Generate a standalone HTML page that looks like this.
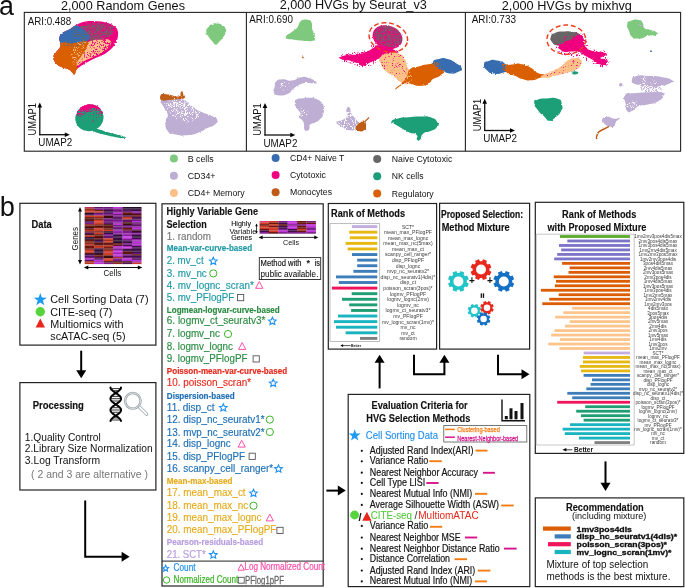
<!DOCTYPE html>
<html><head><meta charset="utf-8"><title>HVG selection benchmark figure</title>
<style>
html,body{margin:0;padding:0;background:#fff;}
svg{display:block;font-family:'Liberation Sans', Arial, sans-serif;fill:#111;}
</style></head><body>
<svg width="685" height="588" viewBox="0 0 685 588">
<defs>
<filter id="rough" x="-5%" y="-5%" width="110%" height="110%"><feTurbulence type="fractalNoise" baseFrequency="0.9" numOctaves="2" seed="3" result="n"/><feDisplacementMap in="SourceGraphic" in2="n" scale="2.2" xChannelSelector="R" yChannelSelector="G"/></filter>
<filter id="hb" x="0" y="0" width="100%" height="100%"><feGaussianBlur stdDeviation="0.3 0.7"/></filter>
<filter id="s80" x="0" y="0" width="100%" height="100%"><feTurbulence type="fractalNoise" baseFrequency="0.9" numOctaves="1" seed="3" result="n"/><feColorMatrix in="n" type="matrix" values="0 0 0 0 0 0 0 0 0 0 0 0 0 0 0 9 0 0 0 -3.60" result="m"/><feComposite in="SourceGraphic" in2="m" operator="in"/></filter>
<filter id="s70" x="0" y="0" width="100%" height="100%"><feTurbulence type="fractalNoise" baseFrequency="0.9" numOctaves="1" seed="7" result="n"/><feColorMatrix in="n" type="matrix" values="0 0 0 0 0 0 0 0 0 0 0 0 0 0 0 9 0 0 0 -3.96" result="m"/><feComposite in="SourceGraphic" in2="m" operator="in"/></filter>
<filter id="s60" x="0" y="0" width="100%" height="100%"><feTurbulence type="fractalNoise" baseFrequency="0.9" numOctaves="1" seed="11" result="n"/><feColorMatrix in="n" type="matrix" values="0 0 0 0 0 0 0 0 0 0 0 0 0 0 0 9 0 0 0 -4.23" result="m"/><feComposite in="SourceGraphic" in2="m" operator="in"/></filter>
<filter id="s50" x="0" y="0" width="100%" height="100%"><feTurbulence type="fractalNoise" baseFrequency="0.9" numOctaves="1" seed="23" result="n"/><feColorMatrix in="n" type="matrix" values="0 0 0 0 0 0 0 0 0 0 0 0 0 0 0 9 0 0 0 -4.50" result="m"/><feComposite in="SourceGraphic" in2="m" operator="in"/></filter>
<filter id="s35" x="0" y="0" width="100%" height="100%"><feTurbulence type="fractalNoise" baseFrequency="0.9" numOctaves="1" seed="37" result="n"/><feColorMatrix in="n" type="matrix" values="0 0 0 0 0 0 0 0 0 0 0 0 0 0 0 9 0 0 0 -4.86" result="m"/><feComposite in="SourceGraphic" in2="m" operator="in"/></filter>
<filter id="s20" x="0" y="0" width="100%" height="100%"><feTurbulence type="fractalNoise" baseFrequency="0.9" numOctaves="1" seed="41" result="n"/><feColorMatrix in="n" type="matrix" values="0 0 0 0 0 0 0 0 0 0 0 0 0 0 0 9 0 0 0 -5.22" result="m"/><feComposite in="SourceGraphic" in2="m" operator="in"/></filter>
<filter id="s35b" x="0" y="0" width="100%" height="100%"><feTurbulence type="fractalNoise" baseFrequency="0.9" numOctaves="1" seed="77" result="n"/><feColorMatrix in="n" type="matrix" values="0 0 0 0 0 0 0 0 0 0 0 0 0 0 0 9 0 0 0 -4.77" result="m"/><feComposite in="SourceGraphic" in2="m" operator="in"/></filter>
<filter id="s10" x="0" y="0" width="100%" height="100%"><feTurbulence type="fractalNoise" baseFrequency="0.9" numOctaves="1" seed="53" result="n"/><feColorMatrix in="n" type="matrix" values="0 0 0 0 0 0 0 0 0 0 0 0 0 0 0 9 0 0 0 -5.58" result="m"/><feComposite in="SourceGraphic" in2="m" operator="in"/></filter>
<clipPath id="c1"><path d="M74.3,74.6 C73.1,74.6 71.8,71.1 69.2,69.7 C66.7,68.3 61.5,67.6 59.0,66.0 C56.5,64.4 54.8,62.0 53.9,60.3 C53.0,58.6 53.0,57.2 53.4,55.9 C53.8,54.5 55.0,53.6 56.0,52.2 C57.0,50.9 59.0,49.2 59.7,47.8 C60.4,46.3 60.5,45.1 60.4,43.5 C60.3,41.9 58.8,40.1 59.0,38.4 C59.2,36.7 60.2,34.7 61.9,33.2 C63.6,31.7 67.1,30.8 69.2,29.6 C71.3,28.4 72.1,27.2 74.3,26.0 C76.5,24.8 79.5,23.1 82.3,22.3 C85.1,21.5 87.8,21.2 91.0,21.1 C94.2,21.0 98.1,21.2 101.3,21.6 C104.5,22.1 107.6,22.8 110.0,23.8 C112.4,24.8 114.6,25.9 115.9,27.4 C117.2,28.8 117.8,30.6 118.1,32.5 C118.3,34.4 118.0,36.9 117.4,39.0 C116.8,41.1 115.7,43.1 114.5,44.9 C113.3,46.7 112.0,48.3 110.0,50.0 C108.0,51.7 105.2,53.8 102.8,55.1 C100.4,56.5 97.9,57.0 95.5,58.1 C93.1,59.2 90.6,60.4 88.2,61.7 C85.8,63.0 82.9,64.8 80.9,66.1 C79.0,67.4 77.6,68.3 76.5,69.7 C75.4,71.1 75.5,74.6 74.3,74.6 Z"/></clipPath>
<clipPath id="cnk"><ellipse cx="89.4" cy="117.8" rx="14.4" ry="13.4" transform="rotate(-20 89.4 117.8)"/></clipPath>
</defs>
<rect width="685" height="588" fill="#fff"/>
<text x="-0.9" y="14.5" font-size="26.8">a</text>
<text x="61.0" y="9.6" font-size="12.6" textLength="124.0" lengthAdjust="spacingAndGlyphs">2,000 Random Genes</text>
<text x="279.7" y="9.4" font-size="12.6" textLength="147.1" lengthAdjust="spacingAndGlyphs">2,000 HVGs by Seurat_v3</text>
<text x="501.8" y="9.6" font-size="12.6" textLength="130.1" lengthAdjust="spacingAndGlyphs">2,000 HVGs by mixhvg</text>
<rect x="24.3" y="12.4" width="656.3" height="138.8" fill="none" stroke="#222" stroke-width="1.1" />
<line x1="246.4" y1="12.4" x2="246.4" y2="151.2" stroke="#222" stroke-width="1.1" />
<line x1="465.4" y1="12.4" x2="465.4" y2="151.2" stroke="#222" stroke-width="1.1" />
<text x="27.7" y="25.0" font-size="10.4" textLength="43.5" lengthAdjust="spacingAndGlyphs">ARI:0.488</text>
<text x="249.3" y="22.9" font-size="10.4" textLength="43.7" lengthAdjust="spacingAndGlyphs">ARI:0.690</text>
<text x="471.7" y="22.9" font-size="10.4" textLength="44.3" lengthAdjust="spacingAndGlyphs">ARI:0.733</text>
<line x1="39.8" y1="135.3" x2="39.8" y2="106.6" stroke="#111" stroke-width="1.3" />
<line x1="39.2" y1="134.7" x2="65.8" y2="134.7" stroke="#111" stroke-width="1.3" />
<polygon points="39.8,102.6 42.1,107.6 37.5,107.6" fill="#000" stroke="none" stroke-width="1" />
<polygon points="69.8,134.7 64.8,137.0 64.8,132.4" fill="#000" stroke="none" stroke-width="1" />
<text transform="translate(35.7 135.4) rotate(-90)" font-size="10.2" textLength="32.3" lengthAdjust="spacingAndGlyphs">UMAP1</text>
<text x="38.3" y="146.3" font-size="10.3" textLength="33.9" lengthAdjust="spacingAndGlyphs">UMAP2</text>
<line x1="265.0" y1="135.6" x2="265.0" y2="106.9" stroke="#111" stroke-width="1.3" />
<line x1="264.4" y1="135.0" x2="291.3" y2="135.0" stroke="#111" stroke-width="1.3" />
<polygon points="265.0,102.9 267.3,107.9 262.7,107.9" fill="#000" stroke="none" stroke-width="1" />
<polygon points="295.3,135.0 290.3,137.3 290.3,132.7" fill="#000" stroke="none" stroke-width="1" />
<text transform="translate(261.2 135.7) rotate(-90)" font-size="10.2" textLength="32.3" lengthAdjust="spacingAndGlyphs">UMAP1</text>
<text x="263.5" y="146.6" font-size="10.3" textLength="33.9" lengthAdjust="spacingAndGlyphs">UMAP2</text>
<line x1="484.7" y1="131.1" x2="484.7" y2="102.8" stroke="#111" stroke-width="1.3" />
<line x1="484.1" y1="130.5" x2="511.0" y2="130.5" stroke="#111" stroke-width="1.3" />
<polygon points="484.7,98.8 487.0,103.8 482.4,103.8" fill="#000" stroke="none" stroke-width="1" />
<polygon points="515.0,130.5 510.0,132.8 510.0,128.2" fill="#000" stroke="none" stroke-width="1" />
<text transform="translate(481.0 131.2) rotate(-90)" font-size="10.2" textLength="32.3" lengthAdjust="spacingAndGlyphs">UMAP1</text>
<text x="483.2" y="142.1" font-size="10.3" textLength="33.9" lengthAdjust="spacingAndGlyphs">UMAP2</text>
<g filter="url(#rough)">
<g clip-path="url(#c1)">
<rect x="45.0" y="15.0" width="80.0" height="65.0" fill="#f0027f" stroke="none" stroke-width="1.2" />
<ellipse cx="94.0" cy="31.8" rx="20.0" ry="8.8" fill="#666666" stroke="none" stroke-width="1" transform="rotate(-6 94.0 31.8)" filter="url(#s70)"/>
<path d="M85.8,45.2 C89.2,42.1 86.4,42.6 91.6,40.8 C96.8,39.0 95.2,39.9 101.3,39.8 C107.4,39.7 107.6,38.1 110.0,40.5 C112.4,42.9 111.3,42.9 108.5,47.1 C105.7,51.3 106.8,49.6 101.5,53.0 C96.2,56.4 98.5,54.4 92.6,57.2 C86.7,60.0 89.2,58.3 83.8,61.3 C78.4,64.3 80.3,65.5 76.5,66.1 C72.7,66.7 72.5,66.6 72.3,63.2 C72.1,59.8 73.0,60.3 76.0,55.9 C79.0,51.5 78.0,53.6 81.3,50.0 C84.6,46.4 82.4,48.3 85.8,45.2 Z" fill="#fdc086" stroke="none" stroke-width="1" />
<path d="M85.8,45.2 C89.2,42.1 86.4,42.6 91.6,40.8 C96.8,39.0 95.2,39.9 101.3,39.8 C107.4,39.7 107.6,38.1 110.0,40.5 C112.4,42.9 111.3,42.9 108.5,47.1 C105.7,51.3 106.8,49.6 101.5,53.0 C96.2,56.4 98.5,54.4 92.6,57.2 C86.7,60.0 89.2,58.3 83.8,61.3 C78.4,64.3 80.3,65.5 76.5,66.1 C72.7,66.7 72.5,66.6 72.3,63.2 C72.1,59.8 73.0,60.3 76.0,55.9 C79.0,51.5 78.0,53.6 81.3,50.0 C84.6,46.4 82.4,48.3 85.8,45.2 Z" fill="#f0027f" stroke="none" stroke-width="1" filter="url(#s20)"/>
<path d="M96.0,40.0 C104.3,33.3 106.5,37.6 111.0,40.0 C115.5,42.4 112.5,42.6 109.5,47.1 C106.5,51.6 107.6,49.9 102.0,53.4 C96.4,56.9 97.9,55.4 92.6,57.6 C87.3,59.8 84.9,65.9 86.0,60.0 C87.1,54.1 87.7,46.7 96.0,40.0 Z" fill="#f0027f" stroke="none" stroke-width="1" filter="url(#s35)"/>
<path d="M58.0,38.4 C58.7,34.8 57.5,35.5 60.9,32.2 C64.3,28.9 63.4,30.9 68.2,28.6 C73.0,26.3 71.0,25.4 75.3,25.2 C79.6,25.0 77.3,25.6 81.0,28.0 C84.7,30.4 83.7,29.4 86.5,32.5 C89.3,35.6 89.9,34.1 89.5,37.2 C89.1,40.3 89.5,39.8 85.2,41.8 C80.9,43.8 81.8,42.5 76.5,43.2 C71.2,43.9 74.1,43.5 69.2,44.0 C64.3,44.5 65.4,45.0 61.9,44.7 C58.4,44.4 60.0,45.1 58.7,43.0 C57.4,40.9 57.3,42.0 58.0,38.4 Z" fill="#386cb0" stroke="none" stroke-width="1" />
<path d="M52.4,55.9 C53.1,53.2 52.9,54.9 55.0,52.2 C57.1,49.5 57.2,50.8 58.7,47.8 C60.2,44.8 55.9,44.7 59.4,43.2 C62.9,41.7 63.0,43.5 69.2,43.2 C75.4,42.9 71.9,42.8 78.0,42.4 C84.1,42.0 84.9,39.9 87.6,42.0 C90.3,44.1 88.1,44.0 86.0,48.6 C83.9,53.2 84.4,51.0 81.4,55.9 C78.4,60.8 78.3,58.6 77.0,63.2 C75.7,67.8 77.8,65.4 77.5,69.7 C77.2,74.0 79.1,75.7 76.0,76.0 C72.9,76.3 74.2,73.7 68.2,70.7 C62.2,67.7 63.1,70.5 58.0,67.0 C52.9,63.5 54.8,64.0 52.9,60.3 C51.0,56.6 51.7,58.6 52.4,55.9 Z" fill="#d95f02" stroke="none" stroke-width="1" />
<path d="M78.0,42.0 C82.3,39.0 84.0,38.7 86.0,41.0 C88.0,43.3 86.3,43.7 84.0,49.0 C81.7,54.3 81.7,52.0 79.0,57.0 C76.3,62.0 78.7,63.0 76.0,64.0 C73.3,65.0 72.0,64.7 71.0,60.0 C70.0,55.3 70.7,56.0 73.0,50.0 C75.3,44.0 73.7,45.0 78.0,42.0 Z" fill="#fdc086" stroke="none" stroke-width="1" filter="url(#s35)"/>
<path d="M62.0,42.0 C70.0,39.0 80.0,37.3 88.0,38.0 C96.0,38.7 94.0,41.0 86.0,44.0 C78.0,47.0 72.0,47.7 64.0,47.0 C56.0,46.3 54.0,45.0 62.0,42.0 Z" fill="#666666" stroke="none" stroke-width="1" filter="url(#s20)"/>
<path d="M70.0,28.0 C70.7,24.7 76.0,27.7 82.0,31.0 C88.0,34.3 88.7,34.7 88.0,38.0 C87.3,41.3 86.0,44.3 80.0,41.0 C74.0,37.7 69.3,31.3 70.0,28.0 Z" fill="#666666" stroke="none" stroke-width="1" filter="url(#s35)"/>
</g>
<path d="M208.5,27.0 C210.4,24.6 209.2,25.3 212.0,24.2 C214.8,23.1 213.7,23.3 217.0,23.6 C220.3,23.9 219.2,23.4 222.0,25.0 C224.8,26.6 224.4,25.8 225.5,28.5 C226.6,31.2 226.3,29.8 225.3,33.0 C224.3,36.2 224.6,35.0 222.5,38.0 C220.4,41.0 221.3,39.8 219.0,42.0 C216.7,44.2 217.9,44.7 215.7,44.5 C213.5,44.3 214.9,44.2 212.5,41.5 C210.1,38.8 210.6,39.8 208.5,36.5 C206.4,33.2 206.3,34.7 206.3,31.5 C206.3,28.3 206.6,29.4 208.5,27.0 Z" fill="#7fc97f" stroke="none" stroke-width="1" />
<ellipse cx="89.4" cy="117.8" rx="14.2" ry="13.2" fill="#1b9e77" stroke="none" stroke-width="1" transform="rotate(-20 89.4 117.8)" />
<path d="M93.0,129.2 C94.3,128.6 95.2,128.7 99.0,129.4 C102.8,130.1 102.6,130.7 107.3,132.0 C112.0,133.3 111.8,133.1 116.5,134.4 C121.2,135.7 122.9,135.7 124.8,136.8 C126.7,137.9 126.8,138.5 123.5,138.4 C120.2,138.3 118.2,137.8 112.5,136.6 C106.8,135.4 106.9,135.3 102.0,134.0 C97.1,132.7 96.6,132.9 94.2,131.6 C91.8,130.3 91.7,129.8 93.0,129.2 Z" fill="#1b9e77" stroke="none" stroke-width="1" />
<g clip-path="url(#cnk)">
<path d="M80.0,108.0 C80.3,105.8 80.7,105.8 86.0,104.0 C91.3,102.2 90.3,101.8 96.0,102.5 C101.7,103.2 101.3,103.7 103.0,106.0 C104.7,108.3 104.3,108.8 101.0,109.5 C97.7,110.2 98.3,107.7 93.0,108.0 C87.7,108.3 89.3,110.5 85.0,110.5 C80.7,110.5 79.7,110.2 80.0,108.0 Z" fill="#f0027f" stroke="none" stroke-width="1" />
<path d="M77.0,112.0 C77.7,108.2 75.7,108.3 82.0,105.0 C88.3,101.7 88.3,101.0 96.0,102.0 C103.7,103.0 102.7,104.2 105.0,108.0 C107.3,111.8 106.3,112.3 103.0,113.5 C99.7,114.7 100.7,111.5 95.0,111.5 C89.3,111.5 91.0,111.8 86.0,113.5 C81.0,115.2 83.0,117.0 80.0,116.5 C77.0,116.0 76.3,115.8 77.0,112.0 Z" fill="#f0027f" stroke="none" stroke-width="1" filter="url(#s60)"/>
<path d="M80.0,114.0 C82.7,110.0 88.7,110.0 96.0,110.0 C103.3,110.0 101.0,110.0 102.0,114.0 C103.0,118.0 103.7,119.3 99.0,122.0 C94.3,124.7 94.3,124.7 88.0,122.0 C81.7,119.3 77.3,118.0 80.0,114.0 Z" fill="#f0027f" stroke="none" stroke-width="1" filter="url(#s10)"/>
</g>
<path d="M161.5,100.0 C164.0,96.9 165.0,99.3 172.0,99.2 C179.0,99.1 176.0,97.4 182.5,99.6 C189.0,101.8 185.8,102.0 191.4,105.8 C197.0,109.6 192.3,107.5 199.3,111.0 C206.3,114.5 206.4,113.2 212.4,116.3 C218.4,119.4 216.4,117.5 217.3,120.2 C218.2,122.9 218.4,121.7 215.0,124.4 C211.6,127.1 212.3,125.7 207.1,128.3 C201.9,130.9 205.4,130.0 199.3,132.2 C193.2,134.4 196.6,134.3 188.7,135.0 C180.8,135.7 182.6,135.8 175.6,134.4 C168.6,133.0 171.0,135.2 167.7,130.9 C164.4,126.6 165.8,126.8 165.8,121.5 C165.8,116.2 168.1,119.4 167.7,115.0 C167.3,110.6 166.7,113.4 164.6,108.4 C162.5,103.4 159.0,103.1 161.5,100.0 Z" fill="#beaed4" stroke="none" stroke-width="1" />
<path d="M166.0,100.5 C170.7,96.3 175.0,98.7 184.0,100.5 C193.0,102.3 187.7,101.8 193.0,106.0 C198.3,110.2 200.0,108.0 200.0,113.0 C200.0,118.0 199.7,118.7 193.0,121.0 C186.3,123.3 187.7,122.7 180.0,120.0 C172.3,117.3 174.7,119.5 170.0,113.0 C165.3,106.5 161.3,104.7 166.0,100.5 Z" fill="#fff" stroke="none" stroke-width="1" filter="url(#s35)"/>
<path d="M170.0,101.5 C173.7,99.5 177.0,99.8 184.0,102.0 C191.0,104.2 189.0,103.7 191.0,108.0 C193.0,112.3 193.7,113.0 190.0,115.0 C186.3,117.0 185.7,116.3 180.0,114.0 C174.3,111.7 176.3,112.2 173.0,108.0 C169.7,103.8 166.3,103.5 170.0,101.5 Z" fill="#fff" stroke="none" stroke-width="1" filter="url(#s35b)"/>
<path d="M161.0,94.8 C162.1,93.4 163.4,94.1 166.0,94.2 C168.6,94.3 169.7,94.7 172.0,95.2 C174.3,95.7 174.2,96.4 176.0,96.5 C177.8,96.6 178.7,96.8 179.8,95.8 C180.9,94.8 180.2,93.2 180.8,92.2 C181.4,91.2 181.9,91.1 182.5,91.6 C183.1,92.1 182.7,93.2 183.2,94.2 C183.7,95.2 184.3,94.9 184.6,95.8 C184.9,96.7 185.8,97.4 184.3,98.2 C182.8,99.0 181.3,98.8 178.0,99.2 C174.7,99.6 173.8,99.5 170.0,99.8 C166.2,100.1 163.6,101.6 161.5,100.4 C159.4,99.2 159.9,96.2 161.0,94.8 Z" fill="#bf5b17" stroke="none" stroke-width="1" />
<path d="M172.0,96.5 C176.2,95.0 180.3,94.5 184.5,95.5 C188.7,96.5 188.7,98.0 184.5,99.5 C180.3,101.0 176.2,101.0 172.0,100.0 C167.8,99.0 167.8,98.0 172.0,96.5 Z" fill="#fff" stroke="none" stroke-width="1" filter="url(#s20)"/>
<path d="M300.0,22.0 C301.3,20.7 301.1,20.3 303.5,19.8 C305.9,19.3 306.8,19.2 309.0,20.1 C311.2,21.0 310.8,20.4 311.7,23.0 C312.6,25.6 311.6,26.4 312.5,30.0 C313.4,33.6 314.7,33.7 315.0,36.5 C315.3,39.3 315.9,39.4 313.5,40.6 C311.1,41.8 310.7,41.1 306.0,40.9 C301.3,40.7 301.1,40.5 296.0,39.9 C290.9,39.3 289.6,39.8 287.0,38.8 C284.4,37.8 285.1,37.7 286.2,36.0 C287.3,34.3 288.3,34.5 291.0,32.5 C293.7,30.5 294.4,30.6 296.5,28.5 C298.6,26.4 297.9,26.2 298.8,24.5 C299.7,22.8 298.7,23.3 300.0,22.0 Z" fill="#7fc97f" stroke="none" stroke-width="1" />
<path d="M275.8,82.0 C278.3,79.4 276.8,79.8 282.2,79.3 C287.6,78.8 285.9,81.2 291.9,80.6 C297.9,80.0 294.7,78.4 300.3,77.5 C305.9,76.6 303.4,76.3 308.8,78.0 C314.2,79.7 315.8,80.9 316.6,82.6 C317.4,84.3 315.4,83.0 311.2,83.2 C307.0,83.4 308.5,82.3 303.9,83.2 C299.3,84.1 301.3,83.9 297.5,86.0 C293.7,88.1 295.8,86.8 292.5,89.5 C289.2,92.2 292.3,92.1 287.5,94.0 C282.7,95.9 282.6,95.7 278.0,95.2 C273.4,94.7 274.9,95.2 273.8,92.5 C272.7,89.8 273.9,90.5 274.6,87.0 C275.3,83.5 273.3,84.6 275.8,82.0 Z" fill="#beaed4" stroke="none" stroke-width="1" />
<path d="M280.0,84.0 C283.0,81.7 285.3,82.3 290.0,83.0 C294.7,83.7 294.7,83.7 294.0,86.0 C293.3,88.3 292.3,88.7 288.0,90.0 C283.7,91.3 283.7,92.0 281.0,90.0 C278.3,88.0 277.0,86.3 280.0,84.0 Z" fill="#fff" stroke="none" stroke-width="1" filter="url(#s20)"/>
<path d="M296.2,99.7 C298.4,98.2 298.2,98.9 302.1,98.3 C306.0,97.7 304.9,97.5 309.1,97.7 C313.3,97.9 312.4,97.4 316.1,98.9 C319.9,100.4 319.3,99.9 321.6,102.6 C323.9,105.3 323.4,104.6 323.9,107.9 C324.4,111.2 324.4,110.3 323.3,113.7 C322.2,117.1 322.7,116.4 320.2,119.1 C317.7,121.8 317.9,121.1 314.9,122.7 C311.9,124.3 312.0,122.5 310.3,124.4 C308.6,126.3 310.4,127.0 309.3,128.9 C308.2,130.8 308.2,130.8 306.7,130.8 C305.2,130.8 305.0,130.9 304.2,128.9 C303.4,126.9 304.6,126.8 304.0,124.2 C303.4,121.6 303.6,122.2 302.1,120.1 C300.6,118.0 299.5,119.1 299.0,117.2 C298.5,115.3 300.7,115.8 300.5,113.7 C300.3,111.6 299.9,112.3 298.4,110.2 C296.9,108.1 296.6,108.8 295.5,106.7 C294.4,104.6 294.7,105.3 294.9,103.2 C295.1,101.1 294.0,101.2 296.2,99.7 Z" fill="#beaed4" stroke="none" stroke-width="1" />
<path d="M299.0,108.0 C301.0,106.7 302.0,108.0 305.0,110.0 C308.0,112.0 308.7,111.7 308.0,114.0 C307.3,116.3 306.0,117.0 303.0,117.0 C300.0,117.0 300.3,117.0 299.0,114.0 C297.7,111.0 297.0,109.3 299.0,108.0 Z" fill="#fff" stroke="none" stroke-width="1" filter="url(#s35)"/>
<path d="M336.5,122.3 C336.4,119.8 339.1,121.9 342.6,119.9 C346.1,117.9 345.7,119.8 347.0,116.3 C348.3,112.8 345.6,112.4 346.5,109.5 C347.4,106.6 347.9,106.2 349.6,107.7 C351.3,109.2 349.5,110.2 351.5,113.9 C353.5,117.6 353.5,115.5 355.7,118.7 C357.9,121.9 358.1,120.4 358.1,123.6 C358.1,126.8 358.5,126.2 355.7,128.4 C352.9,130.6 353.8,130.6 349.6,130.3 C345.4,130.0 347.4,130.2 343.0,127.5 C338.6,124.8 336.6,124.8 336.5,122.3 Z" fill="#beaed4" stroke="none" stroke-width="1" />
<path d="M336.5,122.3 C336.4,119.8 339.1,121.9 342.6,119.9 C346.1,117.9 345.7,119.8 347.0,116.3 C348.3,112.8 345.6,112.4 346.5,109.5 C347.4,106.6 347.9,106.2 349.6,107.7 C351.3,109.2 349.5,110.2 351.5,113.9 C353.5,117.6 353.5,115.5 355.7,118.7 C357.9,121.9 358.1,120.4 358.1,123.6 C358.1,126.8 358.5,126.2 355.7,128.4 C352.9,130.6 353.8,130.6 349.6,130.3 C345.4,130.0 347.4,130.2 343.0,127.5 C338.6,124.8 336.6,124.8 336.5,122.3 Z" fill="#fff" stroke="none" stroke-width="1" filter="url(#s35)"/>
<path d="M355.7,128.4 C355.7,126.1 356.4,126.0 358.0,124.0 C359.6,122.0 358.5,123.4 360.5,122.4 C362.5,121.4 362.3,119.8 364.1,121.0 C365.9,122.2 366.0,122.9 366.0,126.0 C366.0,129.1 366.7,128.6 364.1,130.3 C361.5,132.0 360.9,131.6 358.1,131.0 C355.3,130.4 355.7,130.7 355.7,128.4 Z" fill="#bf5b17" stroke="none" stroke-width="1" />
<line x1="364.5" y1="122.0" x2="369.0" y2="117.5" stroke="#bf5b17" stroke-width="1.1" />
<circle cx="302.8" cy="57.4" r="0.9" fill="#bf5b17" stroke="none" stroke-width="1" />
<ellipse cx="387.5" cy="37.2" rx="15.2" ry="11.6" fill="#f0027f" stroke="none" stroke-width="1" transform="rotate(18 387.5 37.2)" />
<ellipse cx="388.3" cy="36.3" rx="14.6" ry="10.4" fill="#666666" stroke="none" stroke-width="1" transform="rotate(18 388.3 36.3)" filter="url(#s70)"/>
<path d="M340.0,57.6 C341.1,55.9 341.4,56.0 347.4,54.9 C353.4,53.8 351.3,55.6 358.1,54.3 C364.9,53.0 362.1,53.3 367.7,51.1 C373.3,48.9 370.6,48.0 375.0,47.7 C379.4,47.4 379.3,47.2 381.0,50.3 C382.7,53.4 381.2,54.0 380.0,57.0 C378.8,60.0 380.7,57.4 377.4,59.3 C374.1,61.2 375.0,60.4 370.2,62.6 C365.4,64.8 366.9,65.5 362.9,65.8 C358.9,66.1 362.1,65.0 358.1,63.4 C354.1,61.8 355.5,62.1 350.8,60.9 C346.1,59.7 347.6,61.0 344.0,59.9 C340.4,58.8 338.9,59.3 340.0,57.6 Z" fill="#f0027f" stroke="none" stroke-width="1" />
<path d="M374.0,48.0 C376.0,45.3 375.3,45.3 382.0,46.0 C388.7,46.7 389.0,47.3 394.0,50.0 C399.0,52.7 398.3,51.8 397.0,54.0 C395.7,56.2 395.3,55.3 390.0,56.5 C384.7,57.7 385.7,58.3 381.0,57.5 C376.3,56.7 378.3,57.2 376.0,54.0 C373.7,50.8 372.0,50.7 374.0,48.0 Z" fill="#f0027f" stroke="none" stroke-width="1" />
<path d="M340.0,56.0 C343.3,53.2 343.3,54.7 352.0,52.5 C360.7,50.3 358.0,51.8 366.0,49.5 C374.0,47.2 367.3,46.0 376.0,45.5 C384.7,45.0 384.3,45.5 392.0,48.0 C399.7,50.5 397.7,49.3 399.0,53.0 C400.3,56.7 399.7,56.0 396.0,59.0 C392.3,62.0 393.3,61.0 388.0,62.0 C382.7,63.0 385.3,61.0 380.0,62.0 C374.7,63.0 378.0,63.2 372.0,65.0 C366.0,66.8 368.7,68.0 362.0,67.5 C355.3,67.0 358.7,65.7 352.0,63.5 C345.3,61.3 346.0,63.5 342.0,61.0 C338.0,58.5 336.7,58.8 340.0,56.0 Z" fill="#f0027f" stroke="none" stroke-width="1" filter="url(#s35)"/>
<path d="M380.5,57.5 C383.0,53.7 382.3,54.2 388.5,53.0 C394.7,51.8 393.6,51.6 399.2,53.8 C404.8,56.0 402.5,55.3 405.2,59.7 C407.9,64.1 405.3,62.6 407.4,67.0 C409.5,71.4 409.8,68.6 411.5,73.0 C413.2,77.4 413.8,76.4 412.4,80.1 C411.0,83.8 411.4,83.4 407.4,84.0 C403.4,84.6 404.9,84.5 400.4,82.0 C395.9,79.5 398.7,80.0 394.0,76.5 C389.3,73.0 390.6,75.6 386.3,71.6 C382.0,67.6 382.9,69.1 381.0,64.4 C379.1,59.7 378.0,61.3 380.5,57.5 Z" fill="#fdc086" stroke="none" stroke-width="1" />
<path d="M380.5,57.5 C383.0,53.7 382.3,54.2 388.5,53.0 C394.7,51.8 393.6,51.6 399.2,53.8 C404.8,56.0 402.5,55.3 405.2,59.7 C407.9,64.1 405.3,62.6 407.4,67.0 C409.5,71.4 409.8,68.6 411.5,73.0 C413.2,77.4 413.8,76.4 412.4,80.1 C411.0,83.8 411.4,83.4 407.4,84.0 C403.4,84.6 404.9,84.5 400.4,82.0 C395.9,79.5 398.7,80.0 394.0,76.5 C389.3,73.0 390.6,75.6 386.3,71.6 C382.0,67.6 382.9,69.1 381.0,64.4 C379.1,59.7 378.0,61.3 380.5,57.5 Z" fill="#f0027f" stroke="none" stroke-width="1" filter="url(#s10)"/>
<path d="M410.0,69.2 C413.8,66.1 412.4,68.3 418.5,66.6 C424.6,64.9 422.6,64.8 428.2,64.2 C433.8,63.6 430.5,62.8 435.4,64.9 C440.3,67.0 441.3,66.9 442.9,70.4 C444.5,73.9 443.5,72.5 440.2,75.4 C436.9,78.3 436.6,76.7 433.0,79.1 C429.4,81.5 433.4,80.5 429.4,82.7 C425.4,84.9 427.0,85.4 420.9,85.8 C414.8,86.2 416.1,84.9 411.2,83.9 C406.3,82.9 409.6,82.2 406.2,82.7 C402.8,83.2 404.3,83.4 401.0,85.5 C397.7,87.6 397.8,88.2 396.3,88.9 C394.8,89.6 394.3,89.9 396.5,87.6 C398.7,85.3 399.5,85.9 403.0,82.0 C406.5,78.1 404.7,80.3 407.0,76.0 C409.3,71.7 406.2,72.3 410.0,69.2 Z" fill="#d95f02" stroke="none" stroke-width="1" />
<path d="M404.0,72.0 C405.3,68.7 406.3,68.0 409.0,70.0 C411.7,72.0 412.0,73.7 412.0,78.0 C412.0,82.3 411.3,82.3 409.0,83.0 C406.7,83.7 406.7,83.7 405.0,80.0 C403.3,76.3 402.7,75.3 404.0,72.0 Z" fill="#fdc086" stroke="none" stroke-width="1" filter="url(#s35)"/>
<path d="M433.0,62.0 C433.8,59.4 434.2,59.9 439.0,58.9 C443.8,57.9 441.8,57.5 447.5,58.9 C453.2,60.3 451.3,60.2 456.0,63.2 C460.7,66.2 460.9,65.1 461.7,68.0 C462.5,70.9 462.3,70.0 458.4,71.8 C454.5,73.6 455.1,73.9 449.9,73.5 C444.7,73.1 447.1,72.8 442.7,70.6 C438.3,68.4 439.8,69.7 436.6,66.8 C433.4,63.9 432.2,64.6 433.0,62.0 Z" fill="#386cb0" stroke="none" stroke-width="1" />
<path d="M430.0,64.0 C431.3,62.0 433.3,61.0 437.0,62.0 C440.7,63.0 438.3,63.7 441.0,67.0 C443.7,70.3 446.0,70.3 445.0,72.0 C444.0,73.7 442.0,73.3 438.0,72.0 C434.0,70.7 435.7,70.7 433.0,68.0 C430.3,65.3 428.7,66.0 430.0,64.0 Z" fill="#d95f02" stroke="none" stroke-width="1" filter="url(#s35)"/>
<path d="M391.7,121.2 C392.9,119.4 392.3,119.8 398.0,118.5 C403.7,117.2 401.2,117.9 408.8,117.3 C416.4,116.7 413.6,116.6 420.9,116.6 C428.2,116.6 425.1,115.4 430.6,117.3 C436.1,119.2 435.4,119.1 437.5,122.4 C439.6,125.7 439.1,124.3 436.8,127.2 C434.5,130.1 435.1,128.9 430.6,131.0 C426.1,133.1 426.8,130.6 423.3,133.4 C419.8,136.2 422.3,137.5 420.2,139.5 C418.1,141.5 418.3,141.1 417.0,139.5 C415.7,137.9 419.1,137.1 416.4,134.7 C413.7,132.3 414.1,134.6 408.8,132.2 C403.5,129.8 405.2,130.2 400.4,127.4 C395.6,124.6 397.2,125.9 394.3,123.8 C391.4,121.7 390.5,123.0 391.7,121.2 Z" fill="#1b9e77" stroke="none" stroke-width="1" />
<path d="M484.0,64.4 C484.5,61.3 484.3,62.3 488.6,61.0 C492.9,59.7 491.4,59.4 497.0,60.5 C502.6,61.6 502.2,61.3 505.5,64.2 C508.8,67.1 508.1,66.3 506.9,69.2 C505.7,72.1 506.4,71.6 501.9,73.0 C497.4,74.4 498.3,74.4 493.4,73.5 C488.5,72.6 490.3,73.4 487.2,70.4 C484.1,67.4 483.5,67.5 484.0,64.4 Z" fill="#386cb0" stroke="none" stroke-width="1" />
<path d="M505.5,66.8 C507.5,63.7 508.4,65.1 514.0,64.2 C519.6,63.3 516.8,63.0 522.4,64.2 C528.0,65.4 526.1,65.0 530.9,67.8 C535.7,70.6 532.4,70.1 536.9,72.6 C541.4,75.1 543.6,73.4 544.4,75.2 C545.2,77.0 543.8,76.2 539.3,77.9 C534.8,79.6 536.5,79.9 530.9,80.3 C525.3,80.7 527.6,80.6 522.4,79.1 C517.2,77.6 520.0,77.8 515.2,75.9 C510.4,74.0 511.1,76.5 507.9,73.5 C504.7,70.5 503.5,69.9 505.5,66.8 Z" fill="#d95f02" stroke="none" stroke-width="1" />
<path d="M501.0,66.0 C502.3,63.2 503.3,62.5 506.0,63.5 C508.7,64.5 508.7,65.7 509.0,69.0 C509.3,72.3 509.3,72.5 507.0,73.5 C504.7,74.5 504.0,74.5 502.0,72.0 C500.0,69.5 499.7,68.8 501.0,66.0 Z" fill="#d95f02" stroke="none" stroke-width="1" filter="url(#s35)"/>
<path d="M541.5,75.8 C543.1,73.8 544.9,74.8 551.4,71.6 C557.9,68.4 555.6,69.9 561.1,66.2 C566.6,62.5 563.5,63.2 567.8,60.6 C572.1,58.0 569.8,58.7 574.0,58.3 C578.2,57.9 578.2,57.5 580.5,59.5 C582.8,61.5 582.2,60.9 580.8,64.2 C579.4,67.5 581.2,66.5 576.2,69.4 C571.2,72.3 572.6,70.9 565.9,72.9 C559.2,74.9 562.6,73.9 556.2,75.5 C549.8,77.1 551.5,77.6 546.6,77.7 C541.7,77.8 539.9,77.8 541.5,75.8 Z" fill="#fdc086" stroke="none" stroke-width="1" />
<path d="M541.5,75.8 C543.1,73.8 544.9,74.8 551.4,71.6 C557.9,68.4 555.6,69.9 561.1,66.2 C566.6,62.5 563.5,63.2 567.8,60.6 C572.1,58.0 569.8,58.7 574.0,58.3 C578.2,57.9 578.2,57.5 580.5,59.5 C582.8,61.5 582.2,60.9 580.8,64.2 C579.4,67.5 581.2,66.5 576.2,69.4 C571.2,72.3 572.6,70.9 565.9,72.9 C559.2,74.9 562.6,73.9 556.2,75.5 C549.8,77.1 551.5,77.6 546.6,77.7 C541.7,77.8 539.9,77.8 541.5,75.8 Z" fill="#f0027f" stroke="none" stroke-width="1" filter="url(#s10)"/>
<path d="M534.3,103.0 C534.1,99.5 533.3,101.2 537.4,99.7 C541.5,98.2 539.9,98.8 546.6,98.5 C553.3,98.2 552.4,96.8 557.5,98.7 C562.6,100.6 560.7,99.9 561.8,104.2 C562.9,108.5 563.1,107.0 560.8,111.5 C558.5,116.0 558.8,114.6 555.0,117.7 C551.2,120.8 553.1,121.2 549.5,120.8 C545.9,120.4 548.0,120.0 544.2,116.5 C540.4,113.0 541.3,114.8 538.0,110.3 C534.7,105.8 534.5,106.5 534.3,103.0 Z" fill="#1b9e77" stroke="none" stroke-width="1" />
<path d="M572.5,71.8 C573.7,71.1 574.1,71.0 576.0,71.4 C577.9,71.8 578.6,72.0 578.3,73.0 C578.0,74.0 577.0,74.2 575.0,74.4 C573.0,74.6 573.1,74.5 572.3,73.6 C571.5,72.7 571.3,72.5 572.5,71.8 Z" fill="#1b9e77" stroke="none" stroke-width="1" />
<path d="M551.0,36.5 C552.0,33.5 551.0,34.6 555.0,33.0 C559.0,31.4 557.0,31.9 563.0,31.6 C569.0,31.3 567.3,31.0 573.0,32.0 C578.7,33.0 577.0,32.2 580.0,34.5 C583.0,36.8 582.7,36.2 582.0,39.0 C581.3,41.8 582.7,41.0 578.0,43.0 C573.3,45.0 574.7,44.2 568.0,45.0 C561.3,45.8 563.3,46.5 558.0,45.5 C552.7,44.5 554.3,45.0 552.0,42.0 C549.7,39.0 550.0,39.5 551.0,36.5 Z" fill="#666666" stroke="none" stroke-width="1" />
<path d="M558.7,46.5 C559.8,44.2 559.6,45.3 563.7,43.0 C567.8,40.7 566.0,42.1 571.0,39.5 C576.0,36.9 574.5,35.5 578.7,35.2 C582.9,34.9 581.2,34.7 583.5,38.5 C585.8,42.3 582.1,42.2 585.5,46.5 C588.9,50.8 587.9,49.4 593.7,51.3 C599.5,53.2 599.2,50.9 603.0,52.2 C606.8,53.5 605.9,53.3 605.1,55.2 C604.3,57.1 600.3,56.5 600.5,58.0 C600.7,59.5 603.6,58.1 605.8,59.7 C608.0,61.3 607.6,60.9 607.0,62.7 C606.4,64.5 607.2,65.0 604.0,65.1 C600.8,65.2 602.1,65.2 597.4,62.9 C592.7,60.6 594.9,61.0 589.9,58.2 C584.9,55.4 586.2,56.7 582.5,54.5 C578.8,52.3 582.5,52.7 578.7,51.7 C574.9,50.7 575.8,51.4 571.2,51.5 C566.6,51.6 568.6,52.6 565.0,52.0 C561.4,51.4 562.6,51.6 560.5,49.8 C558.4,48.0 557.6,48.8 558.7,46.5 Z" fill="#f0027f" stroke="none" stroke-width="1" />
<path d="M556.0,47.0 C556.7,43.2 557.0,44.7 562.0,41.5 C567.0,38.3 565.3,40.2 571.0,37.5 C576.7,34.8 574.2,33.3 579.0,33.5 C583.8,33.7 582.5,33.8 585.5,38.0 C588.5,42.2 584.5,42.0 588.0,46.0 C591.5,50.0 590.3,48.3 596.0,50.0 C601.7,51.7 601.0,49.0 605.0,51.0 C609.0,53.0 606.7,52.0 608.0,56.0 C609.3,60.0 610.3,59.3 609.0,63.0 C607.7,66.7 608.3,66.3 604.0,67.0 C599.7,67.7 601.3,67.0 596.0,65.0 C590.7,63.0 593.0,63.5 588.0,61.0 C583.0,58.5 585.0,58.5 581.0,57.5 C577.0,56.5 580.3,58.5 576.0,58.0 C571.7,57.5 573.3,57.7 568.0,56.0 C562.7,54.3 564.0,56.0 560.0,53.0 C556.0,50.0 555.3,50.8 556.0,47.0 Z" fill="#f0027f" stroke="none" stroke-width="1" filter="url(#s35)"/>
<path d="M556.0,40.0 C558.0,36.7 559.3,37.7 566.0,36.0 C572.7,34.3 571.3,33.7 576.0,35.0 C580.7,36.3 582.0,37.0 580.0,40.0 C578.0,43.0 576.7,42.0 570.0,44.0 C563.3,46.0 564.7,47.3 560.0,46.0 C555.3,44.7 554.0,43.3 556.0,40.0 Z" fill="#f0027f" stroke="none" stroke-width="1" filter="url(#s20)"/>
<path d="M627.2,24.3 C627.9,20.9 627.3,22.2 631.1,20.8 C634.9,19.4 634.8,19.4 638.6,20.0 C642.4,20.6 640.6,19.8 642.5,22.5 C644.4,25.2 642.0,25.7 644.4,28.1 C646.8,30.5 645.6,28.2 649.8,29.7 C654.0,31.2 655.2,30.8 657.1,32.7 C659.0,34.6 658.4,34.4 655.4,35.4 C652.4,36.4 652.4,34.9 648.0,35.8 C643.6,36.7 646.1,37.3 642.3,38.2 C638.5,39.1 640.1,39.1 636.7,38.6 C633.3,38.1 634.6,39.3 632.0,36.7 C629.4,34.1 630.6,35.0 629.0,30.9 C627.4,26.8 626.5,27.7 627.2,24.3 Z" fill="#7fc97f" stroke="none" stroke-width="1" />
<path d="M638.0,22.0 C638.7,21.0 640.2,21.3 642.0,23.0 C643.8,24.7 644.2,26.0 643.5,27.0 C642.8,28.0 641.8,27.7 640.0,26.0 C638.2,24.3 637.3,23.0 638.0,22.0 Z" fill="#beaed4" stroke="none" stroke-width="1" filter="url(#s35)"/>
<path d="M632.0,79.9 C632.6,77.3 631.4,77.3 636.7,76.0 C642.0,74.7 639.9,75.7 648.0,76.0 C656.1,76.3 653.2,75.6 661.0,76.9 C668.8,78.2 668.4,77.9 671.5,79.9 C674.6,81.9 673.9,80.9 670.4,82.9 C666.9,84.9 666.6,84.5 661.0,85.8 C655.4,87.1 659.8,87.0 653.6,86.7 C647.4,86.4 648.5,85.7 642.3,84.8 C636.1,83.9 638.3,85.5 634.9,83.9 C631.5,82.3 631.4,82.5 632.0,79.9 Z" fill="#beaed4" stroke="none" stroke-width="1" />
<path d="M642.3,84.6 C646.1,81.9 651.7,82.5 657.3,85.5 C662.9,88.5 662.8,90.8 659.0,93.5 C655.2,96.2 651.6,96.5 646.0,93.5 C640.4,90.5 638.5,87.3 642.3,84.6 Z" fill="#beaed4" stroke="none" stroke-width="1" filter="url(#s60)"/>
<path d="M625.3,94.9 C628.4,91.2 627.3,94.0 634.9,93.2 C642.5,92.4 639.0,92.7 648.0,92.5 C657.0,92.3 657.1,91.1 662.0,92.5 C666.9,93.9 664.3,93.7 662.7,96.8 C661.1,99.9 662.2,99.1 657.3,101.7 C652.4,104.3 654.2,103.0 648.0,104.5 C641.8,106.0 643.9,104.1 638.6,106.3 C633.3,108.5 635.8,109.4 632.0,111.0 C628.2,112.6 629.3,113.2 627.2,111.0 C625.1,108.8 626.3,109.7 625.7,104.3 C625.1,98.9 622.2,98.6 625.3,94.9 Z" fill="#beaed4" stroke="none" stroke-width="1" />
<path d="M640.0,78.0 C642.0,75.7 646.7,77.0 652.0,79.0 C657.3,81.0 658.0,81.7 656.0,84.0 C654.0,86.3 651.3,88.0 646.0,86.0 C640.7,84.0 638.0,80.3 640.0,78.0 Z" fill="#fff" stroke="none" stroke-width="1" filter="url(#s20)"/>
<path d="M627.0,104.0 C629.7,101.0 633.7,99.7 636.0,101.0 C638.3,102.3 636.7,105.0 634.0,108.0 C631.3,111.0 630.3,111.3 628.0,110.0 C625.7,108.7 624.3,107.0 627.0,104.0 Z" fill="#fff" stroke="none" stroke-width="1" filter="url(#s35)"/>
<circle cx="620.8" cy="84.8" r="1.8" fill="#beaed4" stroke="none" stroke-width="1" />
<path d="M602.1,120.2 C602.7,117.8 602.7,117.3 606.8,116.8 C610.9,116.3 610.0,118.3 614.3,118.7 C618.6,119.1 619.1,117.0 619.7,118.1 C620.3,119.2 617.9,119.4 616.1,122.0 C614.3,124.6 616.5,124.5 614.3,126.0 C612.1,127.5 612.7,127.0 609.6,126.4 C606.5,125.8 607.4,126.2 604.9,124.1 C602.4,122.0 601.5,122.6 602.1,120.2 Z" fill="#beaed4" stroke="none" stroke-width="1" />
<path d="M609.0,126.3 C608.0,126.8 604.8,128.5 603.0,129.5 C601.2,130.5 599.5,131.1 598.4,132.3 C597.3,133.6 596.8,135.9 596.5,137.0 C596.2,138.1 596.8,138.7 596.9,139.0" fill="none" stroke="#bf5b17" stroke-width="1.5" />
<circle cx="651.0" cy="51.2" r="0.9" fill="#386cb0" stroke="none" stroke-width="1" />
</g>
<ellipse cx="388.3" cy="37.4" rx="19.6" ry="14.3" fill="none" stroke="#f03c1c" stroke-width="1.45" transform="rotate(15 388.3 37.4)" stroke-dasharray="4.8 2.9"/>
<ellipse cx="566.3" cy="39.6" rx="19.4" ry="14.6" fill="none" stroke="#f03c1c" stroke-width="1.45" stroke-dasharray="4.8 2.9"/>
<circle cx="173.9" cy="158.5" r="4.0" fill="#7fc97f" stroke="none" stroke-width="1" />
<text x="187.7" y="161.6" font-size="8.3" textLength="26.0" lengthAdjust="spacingAndGlyphs">B cells</text>
<circle cx="173.9" cy="175.7" r="4.0" fill="#beaed4" stroke="none" stroke-width="1" />
<text x="187.7" y="178.8" font-size="8.3" textLength="27.8" lengthAdjust="spacingAndGlyphs">CD34+</text>
<circle cx="173.9" cy="193.1" r="4.0" fill="#fdc086" stroke="none" stroke-width="1" />
<text x="187.7" y="196.2" font-size="8.3" textLength="57.0" lengthAdjust="spacingAndGlyphs">CD4+ Memory</text>
<circle cx="275.6" cy="158.0" r="4.0" fill="#386cb0" stroke="none" stroke-width="1" />
<text x="289.9" y="161.1" font-size="8.3" textLength="54.5" lengthAdjust="spacingAndGlyphs">CD4+ Naive T</text>
<circle cx="275.6" cy="175.1" r="4.0" fill="#f0027f" stroke="none" stroke-width="1" />
<text x="289.9" y="178.2" font-size="8.3" textLength="36.1" lengthAdjust="spacingAndGlyphs">Cytotoxic</text>
<circle cx="275.6" cy="192.3" r="4.0" fill="#bf5b17" stroke="none" stroke-width="1" />
<text x="289.9" y="195.4" font-size="8.3" textLength="42.1" lengthAdjust="spacingAndGlyphs">Monocytes</text>
<circle cx="377.2" cy="159.0" r="4.0" fill="#666666" stroke="none" stroke-width="1" />
<text x="391.8" y="162.1" font-size="8.3" textLength="60.5" lengthAdjust="spacingAndGlyphs">Naive Cytotoxic</text>
<circle cx="377.2" cy="176.3" r="4.0" fill="#1b9e77" stroke="none" stroke-width="1" />
<text x="391.8" y="179.4" font-size="8.3" textLength="31.7" lengthAdjust="spacingAndGlyphs">NK cells</text>
<circle cx="377.2" cy="193.5" r="4.0" fill="#d95f02" stroke="none" stroke-width="1" />
<text x="391.8" y="196.6" font-size="8.3" textLength="41.9" lengthAdjust="spacingAndGlyphs">Regulatory</text>
<text x="-0.2" y="216.2" font-size="27.2">b</text>
<rect x="19.9" y="203.3" width="136.0" height="141.8" fill="none" stroke="#222" stroke-width="1.2" />
<text x="31.6" y="227.6" font-size="11.2" textLength="20.2" lengthAdjust="spacingAndGlyphs" font-weight="bold" stroke="#111" stroke-width="0.18">Data</text>
<g filter="url(#hb)">
<rect x="84.70" y="207.00" width="9.55" height="1.53" fill="#b33354"/>
<rect x="84.70" y="208.43" width="9.55" height="1.53" fill="#90291b"/>
<rect x="84.70" y="209.85" width="9.55" height="1.53" fill="#ba3523"/>
<rect x="84.70" y="211.28" width="9.55" height="1.53" fill="#cf3b27"/>
<rect x="84.70" y="212.70" width="9.55" height="1.53" fill="#230828"/>
<rect x="84.70" y="214.12" width="9.55" height="1.53" fill="#450e4d"/>
<rect x="84.70" y="215.55" width="9.55" height="1.53" fill="#cf3b27"/>
<rect x="84.70" y="216.97" width="9.55" height="1.53" fill="#712015"/>
<rect x="84.70" y="218.40" width="9.55" height="1.53" fill="#54110c"/>
<rect x="84.70" y="219.82" width="9.55" height="1.53" fill="#6a1610"/>
<rect x="84.70" y="221.25" width="9.55" height="1.53" fill="#450e4d"/>
<rect x="84.70" y="222.68" width="9.55" height="1.53" fill="#7e1a8c"/>
<rect x="84.70" y="224.10" width="9.55" height="1.53" fill="#90291b"/>
<rect x="84.70" y="225.53" width="9.55" height="1.53" fill="#712015"/>
<rect x="84.70" y="226.95" width="9.55" height="1.53" fill="#3a0c08"/>
<rect x="84.70" y="228.38" width="9.55" height="1.53" fill="#5f130e"/>
<rect x="84.70" y="229.80" width="9.55" height="1.53" fill="#ba3523"/>
<rect x="84.70" y="231.22" width="9.55" height="1.53" fill="#712015"/>
<rect x="84.70" y="232.65" width="9.55" height="1.53" fill="#581262"/>
<rect x="84.70" y="234.07" width="9.55" height="1.53" fill="#3a0c08"/>
<rect x="84.70" y="235.50" width="9.55" height="1.53" fill="#cf3b27"/>
<rect x="84.70" y="236.93" width="9.55" height="1.53" fill="#390e42"/>
<rect x="84.70" y="238.35" width="9.55" height="1.53" fill="#230828"/>
<rect x="84.70" y="239.78" width="9.55" height="1.53" fill="#6a1610"/>
<rect x="84.70" y="241.20" width="9.55" height="1.53" fill="#712015"/>
<rect x="84.70" y="242.62" width="9.55" height="1.53" fill="#90291b"/>
<rect x="84.70" y="244.05" width="9.55" height="1.53" fill="#cf3b27"/>
<rect x="84.70" y="245.47" width="9.55" height="1.53" fill="#6a1610"/>
<rect x="84.70" y="246.90" width="9.55" height="1.53" fill="#6a1610"/>
<rect x="84.70" y="248.32" width="9.55" height="1.53" fill="#712015"/>
<rect x="84.70" y="249.75" width="9.55" height="1.53" fill="#cf3b27"/>
<rect x="84.70" y="251.18" width="9.55" height="1.53" fill="#cf3b27"/>
<rect x="84.70" y="252.60" width="9.55" height="1.53" fill="#5f130e"/>
<rect x="84.70" y="254.03" width="9.55" height="1.53" fill="#450e4d"/>
<rect x="84.70" y="255.45" width="9.55" height="1.53" fill="#581262"/>
<rect x="84.70" y="256.88" width="9.55" height="1.53" fill="#691a79"/>
<rect x="84.70" y="258.30" width="9.55" height="1.53" fill="#c030dc"/>
<rect x="84.70" y="259.73" width="9.55" height="1.53" fill="#581262"/>
<rect x="84.70" y="261.15" width="9.55" height="1.53" fill="#a52f1f"/>
<rect x="84.70" y="262.57" width="9.55" height="1.53" fill="#ba3523"/>
<rect x="94.15" y="207.00" width="9.55" height="1.53" fill="#581262"/>
<rect x="94.15" y="208.43" width="9.55" height="1.53" fill="#7e1a8c"/>
<rect x="94.15" y="209.85" width="9.55" height="1.53" fill="#712015"/>
<rect x="94.15" y="211.28" width="9.55" height="1.53" fill="#cf3b27"/>
<rect x="94.15" y="212.70" width="9.55" height="1.53" fill="#641470"/>
<rect x="94.15" y="214.12" width="9.55" height="1.53" fill="#7e1a8c"/>
<rect x="94.15" y="215.55" width="9.55" height="1.53" fill="#cf3b27"/>
<rect x="94.15" y="216.97" width="9.55" height="1.53" fill="#90291b"/>
<rect x="94.15" y="218.40" width="9.55" height="1.53" fill="#712015"/>
<rect x="94.15" y="219.82" width="9.55" height="1.53" fill="#cf3b27"/>
<rect x="94.15" y="221.25" width="9.55" height="1.53" fill="#cf3b27"/>
<rect x="94.15" y="222.68" width="9.55" height="1.53" fill="#cf3b27"/>
<rect x="94.15" y="224.10" width="9.55" height="1.53" fill="#90291b"/>
<rect x="94.15" y="225.53" width="9.55" height="1.53" fill="#54110c"/>
<rect x="94.15" y="226.95" width="9.55" height="1.53" fill="#712015"/>
<rect x="94.15" y="228.38" width="9.55" height="1.53" fill="#cf3b27"/>
<rect x="94.15" y="229.80" width="9.55" height="1.53" fill="#cf3b27"/>
<rect x="94.15" y="231.22" width="9.55" height="1.53" fill="#712015"/>
<rect x="94.15" y="232.65" width="9.55" height="1.53" fill="#cf3b27"/>
<rect x="94.15" y="234.07" width="9.55" height="1.53" fill="#712015"/>
<rect x="94.15" y="235.50" width="9.55" height="1.53" fill="#6a1610"/>
<rect x="94.15" y="236.93" width="9.55" height="1.53" fill="#4a0f0b"/>
<rect x="94.15" y="238.35" width="9.55" height="1.53" fill="#5f130e"/>
<rect x="94.15" y="239.78" width="9.55" height="1.53" fill="#40104a"/>
<rect x="94.15" y="241.20" width="9.55" height="1.53" fill="#40104a"/>
<rect x="94.15" y="242.62" width="9.55" height="1.53" fill="#5f130e"/>
<rect x="94.15" y="244.05" width="9.55" height="1.53" fill="#54110c"/>
<rect x="94.15" y="245.47" width="9.55" height="1.53" fill="#ba3523"/>
<rect x="94.15" y="246.90" width="9.55" height="1.53" fill="#cf3b27"/>
<rect x="94.15" y="248.32" width="9.55" height="1.53" fill="#390e42"/>
<rect x="94.15" y="249.75" width="9.55" height="1.53" fill="#330c3b"/>
<rect x="94.15" y="251.18" width="9.55" height="1.53" fill="#330c3b"/>
<rect x="94.15" y="252.60" width="9.55" height="1.53" fill="#2c0b33"/>
<rect x="94.15" y="254.03" width="9.55" height="1.53" fill="#4a0f0b"/>
<rect x="94.15" y="255.45" width="9.55" height="1.53" fill="#6a1610"/>
<rect x="94.15" y="256.88" width="9.55" height="1.53" fill="#581262"/>
<rect x="94.15" y="258.30" width="9.55" height="1.53" fill="#450e4d"/>
<rect x="94.15" y="259.73" width="9.55" height="1.53" fill="#c030dc"/>
<rect x="94.15" y="261.15" width="9.55" height="1.53" fill="#9926b0"/>
<rect x="94.15" y="262.57" width="9.55" height="1.53" fill="#c030dc"/>
<rect x="103.60" y="207.00" width="9.55" height="1.53" fill="#71177e"/>
<rect x="103.60" y="208.43" width="9.55" height="1.53" fill="#641470"/>
<rect x="103.60" y="209.85" width="9.55" height="1.53" fill="#40104a"/>
<rect x="103.60" y="211.28" width="9.55" height="1.53" fill="#390e42"/>
<rect x="103.60" y="212.70" width="9.55" height="1.53" fill="#641470"/>
<rect x="103.60" y="214.12" width="9.55" height="1.53" fill="#7e1a8c"/>
<rect x="103.60" y="215.55" width="9.55" height="1.53" fill="#3a0c08"/>
<rect x="103.60" y="216.97" width="9.55" height="1.53" fill="#3a0c08"/>
<rect x="103.60" y="218.40" width="9.55" height="1.53" fill="#7e1a8c"/>
<rect x="103.60" y="219.82" width="9.55" height="1.53" fill="#71177e"/>
<rect x="103.60" y="221.25" width="9.55" height="1.53" fill="#581262"/>
<rect x="103.60" y="222.68" width="9.55" height="1.53" fill="#641470"/>
<rect x="103.60" y="224.10" width="9.55" height="1.53" fill="#4a0f0b"/>
<rect x="103.60" y="225.53" width="9.55" height="1.53" fill="#5f130e"/>
<rect x="103.60" y="226.95" width="9.55" height="1.53" fill="#5f130e"/>
<rect x="103.60" y="228.38" width="9.55" height="1.53" fill="#712015"/>
<rect x="103.60" y="229.80" width="9.55" height="1.53" fill="#cf3b27"/>
<rect x="103.60" y="231.22" width="9.55" height="1.53" fill="#230828"/>
<rect x="103.60" y="232.65" width="9.55" height="1.53" fill="#40104a"/>
<rect x="103.60" y="234.07" width="9.55" height="1.53" fill="#7e1a8c"/>
<rect x="103.60" y="235.50" width="9.55" height="1.53" fill="#641470"/>
<rect x="103.60" y="236.93" width="9.55" height="1.53" fill="#641470"/>
<rect x="103.60" y="238.35" width="9.55" height="1.53" fill="#cf3b27"/>
<rect x="103.60" y="239.78" width="9.55" height="1.53" fill="#a52f1f"/>
<rect x="103.60" y="241.20" width="9.55" height="1.53" fill="#cf3b27"/>
<rect x="103.60" y="242.62" width="9.55" height="1.53" fill="#5f130e"/>
<rect x="103.60" y="244.05" width="9.55" height="1.53" fill="#6a1610"/>
<rect x="103.60" y="245.47" width="9.55" height="1.53" fill="#ba3523"/>
<rect x="103.60" y="246.90" width="9.55" height="1.53" fill="#712015"/>
<rect x="103.60" y="248.32" width="9.55" height="1.53" fill="#712015"/>
<rect x="103.60" y="249.75" width="9.55" height="1.53" fill="#a52f1f"/>
<rect x="103.60" y="251.18" width="9.55" height="1.53" fill="#ba3523"/>
<rect x="103.60" y="252.60" width="9.55" height="1.53" fill="#cf3b27"/>
<rect x="103.60" y="254.03" width="9.55" height="1.53" fill="#cf3b27"/>
<rect x="103.60" y="255.45" width="9.55" height="1.53" fill="#3a0c08"/>
<rect x="103.60" y="256.88" width="9.55" height="1.53" fill="#3a0c08"/>
<rect x="103.60" y="258.30" width="9.55" height="1.53" fill="#cf3b27"/>
<rect x="103.60" y="259.73" width="9.55" height="1.53" fill="#cf3b27"/>
<rect x="103.60" y="261.15" width="9.55" height="1.53" fill="#54110c"/>
<rect x="103.60" y="262.57" width="9.55" height="1.53" fill="#7e1a8c"/>
<rect x="113.05" y="207.00" width="9.55" height="1.49" fill="#c030dc"/>
<rect x="113.05" y="208.39" width="9.55" height="1.49" fill="#7e1a8c"/>
<rect x="113.05" y="209.78" width="9.55" height="1.49" fill="#71177e"/>
<rect x="113.05" y="211.17" width="9.55" height="1.49" fill="#641470"/>
<rect x="113.05" y="212.56" width="9.55" height="1.49" fill="#c030dc"/>
<rect x="113.05" y="213.95" width="9.55" height="1.49" fill="#71177e"/>
<rect x="113.05" y="215.34" width="9.55" height="1.49" fill="#7e1a8c"/>
<rect x="113.05" y="216.73" width="9.55" height="1.49" fill="#641470"/>
<rect x="113.05" y="218.12" width="9.55" height="1.49" fill="#450e4d"/>
<rect x="113.05" y="219.51" width="9.55" height="1.49" fill="#71177e"/>
<rect x="113.05" y="220.90" width="9.55" height="1.49" fill="#9926b0"/>
<rect x="113.05" y="222.29" width="9.55" height="1.49" fill="#86219a"/>
<rect x="113.05" y="223.68" width="9.55" height="1.49" fill="#c030dc"/>
<rect x="113.05" y="225.07" width="9.55" height="1.49" fill="#691a79"/>
<rect x="113.05" y="226.46" width="9.55" height="1.49" fill="#71177e"/>
<rect x="113.05" y="227.85" width="9.55" height="1.49" fill="#691a79"/>
<rect x="113.05" y="229.24" width="9.55" height="1.49" fill="#86219a"/>
<rect x="113.05" y="230.63" width="9.55" height="1.49" fill="#9926b0"/>
<rect x="113.05" y="232.02" width="9.55" height="1.49" fill="#86219a"/>
<rect x="113.05" y="233.41" width="9.55" height="1.49" fill="#7e1a8c"/>
<rect x="113.05" y="234.80" width="9.55" height="1.49" fill="#2c0b33"/>
<rect x="113.05" y="236.20" width="9.55" height="1.49" fill="#390e42"/>
<rect x="113.05" y="237.59" width="9.55" height="1.49" fill="#390e42"/>
<rect x="113.05" y="238.98" width="9.55" height="1.49" fill="#390e42"/>
<rect x="113.05" y="240.37" width="9.55" height="1.49" fill="#230828"/>
<rect x="113.05" y="241.76" width="9.55" height="1.49" fill="#2c0b33"/>
<rect x="113.05" y="243.15" width="9.55" height="1.49" fill="#5f130e"/>
<rect x="113.05" y="244.54" width="9.55" height="1.49" fill="#5f130e"/>
<rect x="113.05" y="245.93" width="9.55" height="1.49" fill="#c030dc"/>
<rect x="113.05" y="247.32" width="9.55" height="1.49" fill="#9926b0"/>
<rect x="113.05" y="248.71" width="9.55" height="1.49" fill="#86219a"/>
<rect x="113.05" y="250.10" width="9.55" height="1.49" fill="#ac2bc6"/>
<rect x="113.05" y="251.49" width="9.55" height="1.49" fill="#c030dc"/>
<rect x="113.05" y="252.88" width="9.55" height="1.49" fill="#9926b0"/>
<rect x="113.05" y="254.27" width="9.55" height="1.49" fill="#c030dc"/>
<rect x="113.05" y="255.66" width="9.55" height="1.49" fill="#ac2bc6"/>
<rect x="113.05" y="257.05" width="9.55" height="1.49" fill="#a52f1f"/>
<rect x="113.05" y="258.44" width="9.55" height="1.49" fill="#7e1a8c"/>
<rect x="113.05" y="259.83" width="9.55" height="1.49" fill="#71177e"/>
<rect x="113.05" y="261.22" width="9.55" height="1.49" fill="#4a0f0b"/>
<rect x="113.05" y="262.61" width="9.55" height="1.49" fill="#90291b"/>
<rect x="122.50" y="207.00" width="9.55" height="1.49" fill="#230828"/>
<rect x="122.50" y="208.39" width="9.55" height="1.49" fill="#2c0b33"/>
<rect x="122.50" y="209.78" width="9.55" height="1.49" fill="#581262"/>
<rect x="122.50" y="211.17" width="9.55" height="1.49" fill="#581262"/>
<rect x="122.50" y="212.56" width="9.55" height="1.49" fill="#6a1610"/>
<rect x="122.50" y="213.95" width="9.55" height="1.49" fill="#4a0f0b"/>
<rect x="122.50" y="215.34" width="9.55" height="1.49" fill="#450e4d"/>
<rect x="122.50" y="216.73" width="9.55" height="1.49" fill="#ba3523"/>
<rect x="122.50" y="218.12" width="9.55" height="1.49" fill="#cf3b27"/>
<rect x="122.50" y="219.51" width="9.55" height="1.49" fill="#581262"/>
<rect x="122.50" y="220.90" width="9.55" height="1.49" fill="#641470"/>
<rect x="122.50" y="222.29" width="9.55" height="1.49" fill="#54110c"/>
<rect x="122.50" y="223.68" width="9.55" height="1.49" fill="#3a0c08"/>
<rect x="122.50" y="225.07" width="9.55" height="1.49" fill="#581262"/>
<rect x="122.50" y="226.46" width="9.55" height="1.49" fill="#71177e"/>
<rect x="122.50" y="227.85" width="9.55" height="1.49" fill="#6a1610"/>
<rect x="122.50" y="229.24" width="9.55" height="1.49" fill="#54110c"/>
<rect x="122.50" y="230.63" width="9.55" height="1.49" fill="#7e1a8c"/>
<rect x="122.50" y="232.02" width="9.55" height="1.49" fill="#7e1a8c"/>
<rect x="122.50" y="233.41" width="9.55" height="1.49" fill="#9926b0"/>
<rect x="122.50" y="234.80" width="9.55" height="1.49" fill="#86219a"/>
<rect x="122.50" y="236.20" width="9.55" height="1.49" fill="#c030dc"/>
<rect x="122.50" y="237.59" width="9.55" height="1.49" fill="#c030dc"/>
<rect x="122.50" y="238.98" width="9.55" height="1.49" fill="#7e1a8c"/>
<rect x="122.50" y="240.37" width="9.55" height="1.49" fill="#40104a"/>
<rect x="122.50" y="241.76" width="9.55" height="1.49" fill="#40104a"/>
<rect x="122.50" y="243.15" width="9.55" height="1.49" fill="#7e1a8c"/>
<rect x="122.50" y="244.54" width="9.55" height="1.49" fill="#450e4d"/>
<rect x="122.50" y="245.93" width="9.55" height="1.49" fill="#ac2bc6"/>
<rect x="122.50" y="247.32" width="9.55" height="1.49" fill="#c030dc"/>
<rect x="122.50" y="248.71" width="9.55" height="1.49" fill="#40104a"/>
<rect x="122.50" y="250.10" width="9.55" height="1.49" fill="#390e42"/>
<rect x="122.50" y="251.49" width="9.55" height="1.49" fill="#5f130e"/>
<rect x="122.50" y="252.88" width="9.55" height="1.49" fill="#5f130e"/>
<rect x="122.50" y="254.27" width="9.55" height="1.49" fill="#71177e"/>
<rect x="122.50" y="255.66" width="9.55" height="1.49" fill="#450e4d"/>
<rect x="122.50" y="257.05" width="9.55" height="1.49" fill="#71177e"/>
<rect x="122.50" y="258.44" width="9.55" height="1.49" fill="#c030dc"/>
<rect x="122.50" y="259.83" width="9.55" height="1.49" fill="#ac2bc6"/>
<rect x="122.50" y="261.22" width="9.55" height="1.49" fill="#3a0c08"/>
<rect x="122.50" y="262.61" width="9.55" height="1.49" fill="#581262"/>
<rect x="131.95" y="207.00" width="9.55" height="1.49" fill="#230828"/>
<rect x="131.95" y="208.39" width="9.55" height="1.49" fill="#2c0b33"/>
<rect x="131.95" y="209.78" width="9.55" height="1.49" fill="#390e42"/>
<rect x="131.95" y="211.17" width="9.55" height="1.49" fill="#86219a"/>
<rect x="131.95" y="212.56" width="9.55" height="1.49" fill="#691a79"/>
<rect x="131.95" y="213.95" width="9.55" height="1.49" fill="#54110c"/>
<rect x="131.95" y="215.34" width="9.55" height="1.49" fill="#6a1610"/>
<rect x="131.95" y="216.73" width="9.55" height="1.49" fill="#450e4d"/>
<rect x="131.95" y="218.12" width="9.55" height="1.49" fill="#450e4d"/>
<rect x="131.95" y="219.51" width="9.55" height="1.49" fill="#691a79"/>
<rect x="131.95" y="220.90" width="9.55" height="1.49" fill="#c030dc"/>
<rect x="131.95" y="222.29" width="9.55" height="1.49" fill="#581262"/>
<rect x="131.95" y="223.68" width="9.55" height="1.49" fill="#7e1a8c"/>
<rect x="131.95" y="225.07" width="9.55" height="1.49" fill="#450e4d"/>
<rect x="131.95" y="226.46" width="9.55" height="1.49" fill="#9926b0"/>
<rect x="131.95" y="227.85" width="9.55" height="1.49" fill="#c030dc"/>
<rect x="131.95" y="229.24" width="9.55" height="1.49" fill="#691a79"/>
<rect x="131.95" y="230.63" width="9.55" height="1.49" fill="#3a0c08"/>
<rect x="131.95" y="232.02" width="9.55" height="1.49" fill="#581262"/>
<rect x="131.95" y="233.41" width="9.55" height="1.49" fill="#7e1a8c"/>
<rect x="131.95" y="234.80" width="9.55" height="1.49" fill="#390e42"/>
<rect x="131.95" y="236.20" width="9.55" height="1.49" fill="#2c0b33"/>
<rect x="131.95" y="237.59" width="9.55" height="1.49" fill="#40104a"/>
<rect x="131.95" y="238.98" width="9.55" height="1.49" fill="#9926b0"/>
<rect x="131.95" y="240.37" width="9.55" height="1.49" fill="#9926b0"/>
<rect x="131.95" y="241.76" width="9.55" height="1.49" fill="#c030dc"/>
<rect x="131.95" y="243.15" width="9.55" height="1.49" fill="#9926b0"/>
<rect x="131.95" y="244.54" width="9.55" height="1.49" fill="#ac2bc6"/>
<rect x="131.95" y="245.93" width="9.55" height="1.49" fill="#450e4d"/>
<rect x="131.95" y="247.32" width="9.55" height="1.49" fill="#450e4d"/>
<rect x="131.95" y="248.71" width="9.55" height="1.49" fill="#390e42"/>
<rect x="131.95" y="250.10" width="9.55" height="1.49" fill="#390e42"/>
<rect x="131.95" y="251.49" width="9.55" height="1.49" fill="#390e42"/>
<rect x="131.95" y="252.88" width="9.55" height="1.49" fill="#71177e"/>
<rect x="131.95" y="254.27" width="9.55" height="1.49" fill="#54110c"/>
<rect x="131.95" y="255.66" width="9.55" height="1.49" fill="#450e4d"/>
<rect x="131.95" y="257.05" width="9.55" height="1.49" fill="#581262"/>
<rect x="131.95" y="258.44" width="9.55" height="1.49" fill="#450e4d"/>
<rect x="131.95" y="259.83" width="9.55" height="1.49" fill="#c030dc"/>
<rect x="131.95" y="261.22" width="9.55" height="1.49" fill="#9926b0"/>
<rect x="131.95" y="262.61" width="9.55" height="1.49" fill="#cf3b27"/>
</g>
<line x1="80.0" y1="210.0" x2="80.0" y2="261.5" stroke="#111" stroke-width="1.0" />
<polygon points="80.0,264.5 78.0,260.0 82.0,260.0" fill="#000" stroke="none" stroke-width="1" />
<polygon points="80.0,207.0 82.0,211.5 78.0,211.5" fill="#000" stroke="none" stroke-width="1" />
<line x1="86.8" y1="267.5" x2="139.3" y2="267.5" stroke="#111" stroke-width="1.0" />
<polygon points="142.3,267.5 137.8,269.5 137.8,265.5" fill="#000" stroke="none" stroke-width="1" />
<polygon points="83.8,267.5 88.3,265.5 88.3,269.5" fill="#000" stroke="none" stroke-width="1" />
<text x="103.4" y="276.3" font-size="8.6" textLength="17.8" lengthAdjust="spacingAndGlyphs">Cells</text>
<text transform="translate(77.6 250.5) rotate(-90)" font-size="8.8" textLength="23.5" lengthAdjust="spacingAndGlyphs">Genes</text>
<polygon points="40.3,293.0 41.9,297.6 46.8,297.7 42.9,300.6 44.3,305.3 40.3,302.5 36.3,305.3 37.7,300.6 33.8,297.7 38.7,297.6" fill="#1e9bf0" stroke="none" stroke-width="1" />
<circle cx="40.3" cy="311.7" r="4.7" fill="#55d43c" stroke="none" stroke-width="1" />
<polygon points="40.3,318.5 45.0,327.5 35.6,327.5" fill="#e8261c" stroke="none" stroke-width="1" />
<text x="50.3" y="303.3" font-size="10.8" textLength="98.2" lengthAdjust="spacingAndGlyphs">Cell Sorting Data (7)</text>
<text x="50.3" y="315.6" font-size="10.8" textLength="62.0" lengthAdjust="spacingAndGlyphs">CITE-seq (7)</text>
<text x="50.3" y="327.6" font-size="10.8" textLength="73.2" lengthAdjust="spacingAndGlyphs">Multiomics with</text>
<text x="50.3" y="339.7" font-size="10.8" textLength="75.2" lengthAdjust="spacingAndGlyphs">scATAC-seq (5)</text>
<line x1="81.2" y1="350.7" x2="81.2" y2="372.0" stroke="#000" stroke-width="2.0" />
<polygon points="81.2,378.3 76.2,370.3 86.2,370.3" fill="#000" stroke="none" stroke-width="1" />
<rect x="19.9" y="382.6" width="136.0" height="107.4" fill="none" stroke="#222" stroke-width="1.2" />
<text x="32.8" y="409.1" font-size="11.2" textLength="51.1" lengthAdjust="spacingAndGlyphs" font-weight="bold" stroke="#111" stroke-width="0.17">Processing</text>
<path d="M110.5,387.4 L110.5,387.8 L110.6,388.2 L110.8,388.7 L111.1,389.1 L111.4,389.5 L111.8,389.9 L112.3,390.3 L112.7,390.8 L113.3,391.2 L113.8,391.6 L114.4,392.0 L115.0,392.4 L115.6,392.9 L116.2,393.3 L116.8,393.7 L117.4,394.1 L118.0,394.5 L118.5,395.0 L119.0,395.4 L119.5,395.8 L119.9,396.2 L120.3,396.6 L120.5,397.1 L120.8,397.5 L120.9,397.9 L121.0,398.3 L121.0,398.7 L121.0,399.2 L120.9,399.6 L120.7,400.0 L120.4,400.4 L120.1,400.8 L119.7,401.3 L119.3,401.7 L118.8,402.1 L118.3,402.5 L117.8,402.9 L117.2,403.4 L116.6,403.8 L116.0,404.2 L115.4,404.6 L114.7,405.0 L114.2,405.5 L113.6,405.9 L113.0,406.3 L112.5,406.7 L112.1,407.1 L111.6,407.6 L111.3,408.0 L111.0,408.4 L110.8,408.8 L110.6,409.2 L110.5,409.7 L110.5,410.1 L110.5,410.5 L110.6,410.9 L110.8,411.3 L111.0,411.8 L111.3,412.2 L111.7,412.6 L112.1,413.0 L112.6,413.4 L113.1,413.9 L113.7,414.3 L114.2,414.7 L114.8,415.1 L115.4,415.5 L116.1,416.0 L116.7,416.4 L117.3,416.8 L117.8,417.2 L118.4,417.6 L118.9,418.1 L119.4,418.5 L119.8,418.9 L120.2,419.3 L120.5,419.7 L120.7,420.2 L120.9,420.6 L121.0,421.0" fill="none" stroke="#000" stroke-width="2.0" stroke-linecap="round"/>
<path d="M121.0,387.4 L121.0,387.8 L120.9,388.2 L120.7,388.7 L120.4,389.1 L120.1,389.5 L119.7,389.9 L119.2,390.3 L118.8,390.8 L118.2,391.2 L117.7,391.6 L117.1,392.0 L116.5,392.4 L115.9,392.9 L115.3,393.3 L114.7,393.7 L114.1,394.1 L113.5,394.5 L113.0,395.0 L112.5,395.4 L112.0,395.8 L111.6,396.2 L111.2,396.6 L111.0,397.1 L110.7,397.5 L110.6,397.9 L110.5,398.3 L110.5,398.7 L110.5,399.2 L110.6,399.6 L110.8,400.0 L111.1,400.4 L111.4,400.8 L111.8,401.3 L112.2,401.7 L112.7,402.1 L113.2,402.5 L113.7,402.9 L114.3,403.4 L114.9,403.8 L115.5,404.2 L116.1,404.6 L116.8,405.0 L117.3,405.5 L117.9,405.9 L118.5,406.3 L119.0,406.7 L119.4,407.1 L119.9,407.6 L120.2,408.0 L120.5,408.4 L120.7,408.8 L120.9,409.2 L121.0,409.7 L121.0,410.1 L121.0,410.5 L120.9,410.9 L120.7,411.3 L120.5,411.8 L120.2,412.2 L119.8,412.6 L119.4,413.0 L118.9,413.4 L118.4,413.9 L117.8,414.3 L117.3,414.7 L116.7,415.1 L116.1,415.5 L115.4,416.0 L114.8,416.4 L114.2,416.8 L113.7,417.2 L113.1,417.6 L112.6,418.1 L112.1,418.5 L111.7,418.9 L111.3,419.3 L111.0,419.7 L110.8,420.2 L110.6,420.6 L110.5,421.0" fill="none" stroke="#000" stroke-width="2.0" stroke-linecap="round"/>
<line x1="111.2" y1="388.6" x2="120.3" y2="388.6" stroke="#222" stroke-width="0.9" />
<line x1="113.0" y1="390.7" x2="118.5" y2="390.7" stroke="#222" stroke-width="0.9" />
<line x1="112.2" y1="396.4" x2="119.3" y2="396.4" stroke="#222" stroke-width="0.9" />
<line x1="111.0" y1="398.7" x2="120.5" y2="398.7" stroke="#222" stroke-width="0.9" />
<line x1="112.2" y1="401.0" x2="119.3" y2="401.0" stroke="#222" stroke-width="0.9" />
<line x1="112.2" y1="407.7" x2="119.3" y2="407.7" stroke="#222" stroke-width="0.9" />
<line x1="111.0" y1="410.0" x2="120.5" y2="410.0" stroke="#222" stroke-width="0.9" />
<line x1="112.2" y1="412.3" x2="119.3" y2="412.3" stroke="#222" stroke-width="0.9" />
<line x1="113.0" y1="417.9" x2="118.5" y2="417.9" stroke="#222" stroke-width="0.9" />
<line x1="111.2" y1="420.0" x2="120.3" y2="420.0" stroke="#222" stroke-width="0.9" />
<line x1="138.9" y1="406.5" x2="146.6" y2="414.1" stroke="#98a4a8" stroke-width="3.4" stroke-linecap="round"/>
<line x1="139.4" y1="407.0" x2="146.5" y2="414.0" stroke="#fff" stroke-width="1.8" stroke-linecap="round"/>
<circle cx="132.8" cy="400.8" r="7.8" fill="#fff" stroke="#98a4a8" stroke-width="2.4" />
<circle cx="132.8" cy="400.8" r="7.8" fill="none" stroke="#e4e8ea" stroke-width="0.9" />
<text x="24.8" y="441.0" font-size="10.4" textLength="76.0" lengthAdjust="spacingAndGlyphs">1.Quality Control</text>
<text x="24.8" y="452.2" font-size="10.4" textLength="127.8" lengthAdjust="spacingAndGlyphs">2.Library Size Normalization</text>
<text x="24.8" y="463.5" font-size="10.4" textLength="75.2" lengthAdjust="spacingAndGlyphs">3.Log Transform</text>
<text x="31.0" y="478.3" font-size="10.4" textLength="117.0" lengthAdjust="spacingAndGlyphs" fill="#777">( 2 and 3 are alternative )</text>
<path d="M85.2,500.4 L85.2,556.7 L122,556.7" fill="none" stroke="#000" stroke-width="2.0" />
<polygon points="129.6,556.7 121.6,561.7 121.6,551.7" fill="#000" stroke="none" stroke-width="1" />
<rect x="162.0" y="203.8" width="161.2" height="382.2" fill="none" stroke="#222" stroke-width="1.2" />
<line x1="162.0" y1="561.1" x2="323.2" y2="561.1" stroke="#222" stroke-width="1.0" />
<text x="166.6" y="214.6" font-size="10.4" textLength="91.4" lengthAdjust="spacingAndGlyphs" font-weight="bold" stroke="#111" stroke-width="0.13">Highly Variable Gene</text>
<text x="166.6" y="228.1" font-size="10.4" textLength="40.2" lengthAdjust="spacingAndGlyphs" font-weight="bold" stroke="#111" stroke-width="0.14">Selection</text>
<text x="166.8" y="240.2" font-size="10.1" textLength="44.2" lengthAdjust="spacingAndGlyphs" fill="#777" stroke="#777" stroke-width="0.15">1. random</text>
<text x="166.8" y="251.0" font-size="9.8" textLength="85.4" lengthAdjust="spacingAndGlyphs" font-weight="bold" fill="#1f9aa6" stroke="#1f9aa6" stroke-width="0.20">Mean-var-curve-based</text>
<text x="166.8" y="264.1" font-size="10.1" textLength="36.8" lengthAdjust="spacingAndGlyphs" fill="#1f9aa6" stroke="#1f9aa6" stroke-width="0.15">2. mv_ct</text>
<polygon points="213.3,257.3 214.4,259.8 217.1,260.1 215.1,261.9 215.7,264.5 213.3,263.2 210.9,264.5 211.5,261.9 209.5,260.1 212.2,259.8" fill="none" stroke="#1e90f0" stroke-width="1.1" />
<text x="166.8" y="276.7" font-size="10.1" textLength="40.0" lengthAdjust="spacingAndGlyphs" fill="#1f9aa6" stroke="#1f9aa6" stroke-width="0.15">3. mv_nc</text>
<circle cx="213.3" cy="273.4" r="3.6" fill="none" stroke="#3cb428" stroke-width="1.0" />
<text x="166.8" y="288.7" font-size="10.1" textLength="87.2" lengthAdjust="spacingAndGlyphs" fill="#1f9aa6" stroke="#1f9aa6" stroke-width="0.15">4. mv_lognc_scran*</text>
<polygon points="259.3,281.5 262.9,288.3 255.7,288.3" fill="none" stroke="#ff4fa8" stroke-width="1.0" />
<text x="166.8" y="301.2" font-size="10.1" textLength="67.5" lengthAdjust="spacingAndGlyphs" fill="#1f9aa6" stroke="#1f9aa6" stroke-width="0.15">5. mv_PFlogPF</text>
<rect x="237.5" y="294.5" width="6.2" height="6.2" fill="none" stroke="#555" stroke-width="0.9" />
<text x="166.8" y="312.8" font-size="9.8" textLength="113.0" lengthAdjust="spacingAndGlyphs" font-weight="bold" fill="#2a8c42" stroke="#2a8c42" stroke-width="0.19">Logmean-logvar-curve-based</text>
<text x="166.8" y="324.3" font-size="10.1" textLength="98.6" lengthAdjust="spacingAndGlyphs" fill="#2a8c42" stroke="#2a8c42" stroke-width="0.15">6. logmv_ct_seuratv3*</text>
<polygon points="272.4,317.3 273.5,319.8 276.2,320.1 274.2,321.9 274.8,324.5 272.4,323.2 270.0,324.5 270.6,321.9 268.6,320.1 271.3,319.8" fill="none" stroke="#1e90f0" stroke-width="1.1" />
<text x="166.8" y="337.2" font-size="10.1" textLength="53.1" lengthAdjust="spacingAndGlyphs" fill="#2a8c42" stroke="#2a8c42" stroke-width="0.15">7. logmv_nc</text>
<circle cx="228.0" cy="334.0" r="3.6" fill="none" stroke="#3cb428" stroke-width="1.0" />
<text x="166.8" y="349.6" font-size="10.1" textLength="66.2" lengthAdjust="spacingAndGlyphs" fill="#2a8c42" stroke="#2a8c42" stroke-width="0.15">8. logmv_lognc</text>
<polygon points="242.2,342.6 245.8,349.4 238.6,349.4" fill="none" stroke="#ff4fa8" stroke-width="1.0" />
<text x="166.8" y="362.2" font-size="10.1" textLength="80.7" lengthAdjust="spacingAndGlyphs" fill="#2a8c42" stroke="#2a8c42" stroke-width="0.15">9. logmv_PFlogPF</text>
<rect x="253.1" y="355.8" width="6.2" height="6.2" fill="none" stroke="#555" stroke-width="0.9" />
<text x="166.8" y="373.5" font-size="9.8" textLength="120.4" lengthAdjust="spacingAndGlyphs" font-weight="bold" fill="#e8281c" stroke="#e8281c" stroke-width="0.19">Poisson-mean-var-curve-based</text>
<text x="166.8" y="386.4" font-size="10.1" textLength="84.2" lengthAdjust="spacingAndGlyphs" fill="#e8281c" stroke="#e8281c" stroke-width="0.15">10. poisson_scran*</text>
<polygon points="273.2,379.3 274.3,381.8 277.0,382.1 275.0,383.9 275.6,386.5 273.2,385.2 270.8,386.5 271.4,383.9 269.4,382.1 272.1,381.8" fill="none" stroke="#1e90f0" stroke-width="1.1" />
<text x="166.8" y="398.5" font-size="9.8" textLength="67.8" lengthAdjust="spacingAndGlyphs" font-weight="bold" fill="#1f6fb6" stroke="#1f6fb6" stroke-width="0.19">Dispersion-based</text>
<text x="166.8" y="410.7" font-size="10.1" textLength="47.8" lengthAdjust="spacingAndGlyphs" fill="#1f6fb6" stroke="#1f6fb6" stroke-width="0.15">11. disp_ct</text>
<polygon points="223.3,403.8 224.4,406.3 227.1,406.6 225.1,408.4 225.7,411.0 223.3,409.7 220.9,411.0 221.5,408.4 219.5,406.6 222.2,406.3" fill="none" stroke="#1e90f0" stroke-width="1.1" />
<text x="166.8" y="423.2" font-size="10.1" textLength="97.8" lengthAdjust="spacingAndGlyphs" fill="#1f6fb6" stroke="#1f6fb6" stroke-width="0.15">12. disp_nc_seuratv1*</text>
<circle cx="269.8" cy="419.6" r="3.6" fill="none" stroke="#3cb428" stroke-width="1.0" />
<text x="166.8" y="435.5" font-size="10.1" textLength="97.8" lengthAdjust="spacingAndGlyphs" fill="#1f6fb6" stroke="#1f6fb6" stroke-width="0.15">13. mvp_nc_seuratv2*</text>
<circle cx="269.8" cy="432.0" r="3.6" fill="none" stroke="#3cb428" stroke-width="1.0" />
<text x="166.8" y="447.3" font-size="10.1" textLength="63.9" lengthAdjust="spacingAndGlyphs" fill="#1f6fb6" stroke="#1f6fb6" stroke-width="0.15">14. disp_lognc</text>
<polygon points="241.7,440.3 245.3,447.1 238.1,447.1" fill="none" stroke="#ff4fa8" stroke-width="1.0" />
<text x="166.8" y="459.7" font-size="10.1" textLength="78.2" lengthAdjust="spacingAndGlyphs" fill="#1f6fb6" stroke="#1f6fb6" stroke-width="0.15">15. disp_PFlogPF</text>
<rect x="249.1" y="453.2" width="6.2" height="6.2" fill="none" stroke="#555" stroke-width="0.9" />
<text x="166.8" y="472.0" font-size="10.1" textLength="106.4" lengthAdjust="spacingAndGlyphs" fill="#1f6fb6" stroke="#1f6fb6" stroke-width="0.15">16. scanpy_cell_ranger*</text>
<polygon points="278.5,464.9 279.6,467.4 282.3,467.7 280.3,469.5 280.9,472.1 278.5,470.8 276.1,472.1 276.7,469.5 274.7,467.7 277.4,467.4" fill="none" stroke="#1e90f0" stroke-width="1.1" />
<text x="166.8" y="483.5" font-size="9.8" textLength="65.7" lengthAdjust="spacingAndGlyphs" font-weight="bold" fill="#e6ac1c" stroke="#e6ac1c" stroke-width="0.19">Mean-max-based</text>
<text x="166.8" y="496.4" font-size="10.1" textLength="78.8" lengthAdjust="spacingAndGlyphs" fill="#e6ac1c" stroke="#e6ac1c" stroke-width="0.15">17. mean_max_ct</text>
<polygon points="253.5,489.3 254.6,491.8 257.3,492.1 255.3,493.9 255.9,496.5 253.5,495.2 251.1,496.5 251.7,493.9 249.7,492.1 252.4,491.8" fill="none" stroke="#1e90f0" stroke-width="1.1" />
<text x="166.8" y="508.7" font-size="10.1" textLength="81.5" lengthAdjust="spacingAndGlyphs" fill="#e6ac1c" stroke="#e6ac1c" stroke-width="0.15">18. mean_max_nc</text>
<circle cx="253.5" cy="505.7" r="3.6" fill="none" stroke="#3cb428" stroke-width="1.0" />
<text x="166.8" y="521.1" font-size="10.1" textLength="94.6" lengthAdjust="spacingAndGlyphs" fill="#e6ac1c" stroke="#e6ac1c" stroke-width="0.15">19. mean_max_lognc</text>
<polygon points="269.8,514.1 273.4,520.9 266.2,520.9" fill="none" stroke="#ff4fa8" stroke-width="1.0" />
<text x="166.8" y="533.2" font-size="10.1" textLength="109.6" lengthAdjust="spacingAndGlyphs" fill="#e6ac1c" stroke="#e6ac1c" stroke-width="0.15">20. mean_max_PFlogPF</text>
<rect x="276.9" y="527.3" width="6.2" height="6.2" fill="none" stroke="#555" stroke-width="0.9" />
<text x="166.8" y="545.3" font-size="9.8" textLength="96.4" lengthAdjust="spacingAndGlyphs" font-weight="bold" fill="#b79ce0" stroke="#b79ce0" stroke-width="0.19">Pearson-residuals-based</text>
<text x="166.8" y="557.9" font-size="10.1" textLength="38.9" lengthAdjust="spacingAndGlyphs" fill="#b79ce0" stroke="#b79ce0" stroke-width="0.15">21. SCT*</text>
<polygon points="213.3,550.9 214.4,553.4 217.1,553.7 215.1,555.5 215.7,558.1 213.3,556.8 210.9,558.1 211.5,555.5 209.5,553.7 212.2,553.4" fill="none" stroke="#1e90f0" stroke-width="1.1" />
<polygon points="165.6,565.3 166.5,567.3 168.6,567.5 167.0,569.0 167.5,571.1 165.6,570.0 163.7,571.1 164.2,569.0 162.6,567.5 164.7,567.3" fill="none" stroke="#1e90f0" stroke-width="1.1" />
<text x="173.6" y="571.0" font-size="10.2" textLength="21.9" lengthAdjust="spacingAndGlyphs" fill="#1e90f0" stroke="#1e90f0" stroke-width="0.21">Count</text>
<polygon points="241.2,564.1 244.4,570.2 238.0,570.2" fill="none" stroke="#ff4fa8" stroke-width="1.0" />
<text x="244.4" y="570.4" font-size="10.2" textLength="80.6" lengthAdjust="spacingAndGlyphs" fill="#ff4fa8" stroke="#ff4fa8" stroke-width="0.23">Log Normalized Count</text>
<circle cx="166.6" cy="580.0" r="3.2" fill="none" stroke="#3cb428" stroke-width="1.0" />
<text x="173.6" y="583.0" font-size="10.2" textLength="64.6" lengthAdjust="spacingAndGlyphs" fill="#3cb428" stroke="#3cb428" stroke-width="0.23">Normalized Count</text>
<rect x="238.3" y="577.3" width="5.9" height="5.9" fill="none" stroke="#555" stroke-width="0.9" />
<text x="245.1" y="584.2" font-size="10.2" textLength="38.9" lengthAdjust="spacingAndGlyphs" fill="#666" stroke="#666" stroke-width="0.26">PFlog1pPF</text>
<g filter="url(#hb)">
<rect x="259.60" y="221.00" width="9.47" height="1.67" fill="#e0406a"/>
<rect x="259.60" y="222.57" width="9.47" height="1.67" fill="#cf3b27"/>
<rect x="259.60" y="224.15" width="9.47" height="1.67" fill="#6a1610"/>
<rect x="259.60" y="225.72" width="9.47" height="1.67" fill="#cf3b27"/>
<rect x="259.60" y="227.30" width="9.47" height="1.67" fill="#cf3b27"/>
<rect x="259.60" y="228.88" width="9.47" height="1.67" fill="#6a1610"/>
<rect x="259.60" y="230.45" width="9.47" height="1.67" fill="#40104a"/>
<rect x="259.60" y="232.03" width="9.47" height="1.67" fill="#7e1a8c"/>
<rect x="268.97" y="221.00" width="9.47" height="1.67" fill="#cf3b27"/>
<rect x="268.97" y="222.57" width="9.47" height="1.67" fill="#6a1610"/>
<rect x="268.97" y="224.15" width="9.47" height="1.67" fill="#cf3b27"/>
<rect x="268.97" y="225.72" width="9.47" height="1.67" fill="#6a1610"/>
<rect x="268.97" y="227.30" width="9.47" height="1.67" fill="#cf3b27"/>
<rect x="268.97" y="228.88" width="9.47" height="1.67" fill="#cf3b27"/>
<rect x="268.97" y="230.45" width="9.47" height="1.67" fill="#cf3b27"/>
<rect x="268.97" y="232.03" width="9.47" height="1.67" fill="#6a1610"/>
<rect x="278.33" y="221.00" width="9.47" height="1.67" fill="#7e1a8c"/>
<rect x="278.33" y="222.57" width="9.47" height="1.67" fill="#40104a"/>
<rect x="278.33" y="224.15" width="9.47" height="1.67" fill="#6a1610"/>
<rect x="278.33" y="225.72" width="9.47" height="1.67" fill="#40104a"/>
<rect x="278.33" y="227.30" width="9.47" height="1.67" fill="#40104a"/>
<rect x="278.33" y="228.88" width="9.47" height="1.67" fill="#7e1a8c"/>
<rect x="278.33" y="230.45" width="9.47" height="1.67" fill="#c030dc"/>
<rect x="278.33" y="232.03" width="9.47" height="1.67" fill="#7e1a8c"/>
<rect x="287.70" y="221.00" width="9.47" height="1.67" fill="#c030dc"/>
<rect x="287.70" y="222.57" width="9.47" height="1.67" fill="#c030dc"/>
<rect x="287.70" y="224.15" width="9.47" height="1.67" fill="#7e1a8c"/>
<rect x="287.70" y="225.72" width="9.47" height="1.67" fill="#c030dc"/>
<rect x="287.70" y="227.30" width="9.47" height="1.67" fill="#c030dc"/>
<rect x="287.70" y="228.88" width="9.47" height="1.67" fill="#40104a"/>
<rect x="287.70" y="230.45" width="9.47" height="1.67" fill="#40104a"/>
<rect x="287.70" y="232.03" width="9.47" height="1.67" fill="#7e1a8c"/>
<rect x="297.07" y="221.00" width="9.47" height="1.67" fill="#6a1610"/>
<rect x="297.07" y="222.57" width="9.47" height="1.67" fill="#6a1610"/>
<rect x="297.07" y="224.15" width="9.47" height="1.67" fill="#7e1a8c"/>
<rect x="297.07" y="225.72" width="9.47" height="1.67" fill="#6a1610"/>
<rect x="297.07" y="227.30" width="9.47" height="1.67" fill="#6a1610"/>
<rect x="297.07" y="228.88" width="9.47" height="1.67" fill="#cf3b27"/>
<rect x="297.07" y="230.45" width="9.47" height="1.67" fill="#6a1610"/>
<rect x="297.07" y="232.03" width="9.47" height="1.67" fill="#7e1a8c"/>
<rect x="306.43" y="221.00" width="9.47" height="1.67" fill="#7e1a8c"/>
<rect x="306.43" y="222.57" width="9.47" height="1.67" fill="#6a1610"/>
<rect x="306.43" y="224.15" width="9.47" height="1.67" fill="#c030dc"/>
<rect x="306.43" y="225.72" width="9.47" height="1.67" fill="#c030dc"/>
<rect x="306.43" y="227.30" width="9.47" height="1.67" fill="#7e1a8c"/>
<rect x="306.43" y="228.88" width="9.47" height="1.67" fill="#7e1a8c"/>
<rect x="306.43" y="230.45" width="9.47" height="1.67" fill="#c030dc"/>
<rect x="306.43" y="232.03" width="9.47" height="1.67" fill="#7e1a8c"/>
</g>
<line x1="261.6" y1="237.4" x2="315.3" y2="237.4" stroke="#111" stroke-width="0.9" />
<polygon points="318.3,237.4 314.3,239.2 314.3,235.6" fill="#000" stroke="none" stroke-width="1" />
<polygon points="258.6,237.4 262.6,235.6 262.6,239.2" fill="#000" stroke="none" stroke-width="1" />
<line x1="256.5" y1="225.5" x2="256.5" y2="232.0" stroke="#111" stroke-width="0.8" />
<polygon points="256.5,223.6 257.8,226.2 255.2,226.2" fill="#000" stroke="none" stroke-width="1" />
<polygon points="256.5,233.8 255.2,231.2 257.8,231.2" fill="#000" stroke="none" stroke-width="1" />
<text x="283.0" y="245.3" font-size="7.4" textLength="16.0" lengthAdjust="spacingAndGlyphs">Cells</text>
<text x="231.2" y="226.2" font-size="7.9" textLength="19.8" lengthAdjust="spacingAndGlyphs" stroke="#111" stroke-width="0.11">Highly</text>
<text x="229.4" y="233.8" font-size="7.9" textLength="27.0" lengthAdjust="spacingAndGlyphs">Variable</text>
<text x="231.2" y="240.2" font-size="7.9" textLength="20.8" lengthAdjust="spacingAndGlyphs" stroke="#111" stroke-width="0.12">Genes</text>
<rect x="259.3" y="257.6" width="61.4" height="21.9" fill="none" stroke="#222" stroke-width="0.9" />
<text x="260.6" y="266.2" font-size="8.8" textLength="41.0" lengthAdjust="spacingAndGlyphs" stroke="#111" stroke-width="0.15">Method with</text>
<text x="306.6" y="265.6" font-size="9" font-weight="bold">*</text>
<text x="314.7" y="266.2" font-size="8.8" textLength="5.3" lengthAdjust="spacingAndGlyphs" stroke="#111" stroke-width="0.18">is</text>
<text x="260.6" y="276.7" font-size="8.8" textLength="57.8" lengthAdjust="spacingAndGlyphs" stroke="#111" stroke-width="0.08">public available.</text>
<rect x="328.3" y="203.5" width="108.3" height="145.6" fill="none" stroke="#222" stroke-width="1.2" />
<text x="331.1" y="217.3" font-size="10.8" textLength="73.9" lengthAdjust="spacingAndGlyphs" font-weight="bold" stroke="#111" stroke-width="0.17">Rank of Methods</text>
<rect x="330.0" y="223.6" width="49.7" height="117.9" fill="none" stroke="#b0b0b0" stroke-width="0.8" />
<rect x="352.0" y="225.15" width="25.3" height="2.9" fill="#c4aee0"/>
<text x="401.9" y="228.5" font-size="5.5" textLength="12.2" lengthAdjust="spacingAndGlyphs" fill="#3a3a3a">SCT*</text>
<rect x="349.2" y="230.74" width="28.1" height="2.9" fill="#e6b812"/>
<text x="384.0" y="234.1" font-size="5.5" textLength="47.9" lengthAdjust="spacingAndGlyphs" fill="#3a3a3a">mean_max_PFlogPF</text>
<rect x="349.8" y="236.33" width="27.5" height="2.9" fill="#e6b812"/>
<text x="387.9" y="239.7" font-size="5.5" textLength="40.3" lengthAdjust="spacingAndGlyphs" fill="#3a3a3a">mean_max_lognc</text>
<rect x="345.6" y="241.92" width="31.7" height="2.9" fill="#e6b812"/>
<text x="383.3" y="245.3" font-size="5.5" textLength="49.3" lengthAdjust="spacingAndGlyphs" fill="#3a3a3a">mean_max_nc(5max)</text>
<rect x="347.6" y="247.51" width="29.7" height="2.9" fill="#e6b812"/>
<text x="392.0" y="250.9" font-size="5.5" textLength="32.0" lengthAdjust="spacingAndGlyphs" fill="#3a3a3a">mean_max_ct</text>
<rect x="352.0" y="253.10" width="25.3" height="2.9" fill="#3e7cba"/>
<text x="384.9" y="256.4" font-size="5.5" textLength="46.2" lengthAdjust="spacingAndGlyphs" fill="#3a3a3a">scanpy_cell_ranger*</text>
<rect x="357.2" y="258.69" width="20.1" height="2.9" fill="#3e7cba"/>
<text x="392.0" y="262.0" font-size="5.5" textLength="32.0" lengthAdjust="spacingAndGlyphs" fill="#3a3a3a">disp_PFlogPF</text>
<rect x="357.2" y="264.28" width="20.1" height="2.9" fill="#3e7cba"/>
<text x="395.8" y="267.6" font-size="5.5" textLength="24.4" lengthAdjust="spacingAndGlyphs" fill="#3a3a3a">disp_lognc</text>
<rect x="353.4" y="269.87" width="23.9" height="2.9" fill="#3e7cba"/>
<text x="386.9" y="273.2" font-size="5.5" textLength="42.2" lengthAdjust="spacingAndGlyphs" fill="#3a3a3a">mvp_nc_seuratv2*</text>
<rect x="336.0" y="275.46" width="41.3" height="2.9" fill="#3e7cba"/>
<text x="380.6" y="278.8" font-size="5.5" textLength="54.7" lengthAdjust="spacingAndGlyphs" fill="#3a3a3a">disp_nc_seuratv1(4dis)*</text>
<rect x="338.8" y="281.05" width="38.5" height="2.9" fill="#3e7cba"/>
<text x="399.9" y="284.4" font-size="5.5" textLength="16.2" lengthAdjust="spacingAndGlyphs" fill="#3a3a3a">disp_ct</text>
<rect x="331.9" y="286.64" width="45.4" height="2.9" fill="#f0145a"/>
<text x="383.3" y="290.0" font-size="5.5" textLength="49.3" lengthAdjust="spacingAndGlyphs" fill="#3a3a3a">poisson_scran(3pos)*</text>
<rect x="351.7" y="292.23" width="25.6" height="2.9" fill="#1f9e74"/>
<text x="389.9" y="295.6" font-size="5.5" textLength="36.3" lengthAdjust="spacingAndGlyphs" fill="#3a3a3a">logmv_PFlogPF</text>
<rect x="342.0" y="297.82" width="35.3" height="2.9" fill="#1f9e74"/>
<text x="387.2" y="301.2" font-size="5.5" textLength="41.7" lengthAdjust="spacingAndGlyphs" fill="#3a3a3a">logmv_lognc(2mv)</text>
<rect x="349.2" y="303.41" width="28.1" height="2.9" fill="#1f9e74"/>
<text x="397.1" y="306.8" font-size="5.5" textLength="21.8" lengthAdjust="spacingAndGlyphs" fill="#3a3a3a">logmv_nc</text>
<rect x="351.1" y="309.00" width="26.2" height="2.9" fill="#1f9e74"/>
<text x="385.6" y="312.3" font-size="5.5" textLength="44.8" lengthAdjust="spacingAndGlyphs" fill="#3a3a3a">logmv_ct_seuratv3*</text>
<rect x="338.0" y="314.59" width="39.3" height="2.9" fill="#18b4c0"/>
<text x="393.3" y="317.9" font-size="5.5" textLength="29.5" lengthAdjust="spacingAndGlyphs" fill="#3a3a3a">mv_PFlogPF</text>
<rect x="334.0" y="320.18" width="43.3" height="2.9" fill="#18b4c0"/>
<text x="381.9" y="323.5" font-size="5.5" textLength="52.1" lengthAdjust="spacingAndGlyphs" fill="#3a3a3a">mv_lognc_scran(1mv)*</text>
<rect x="336.0" y="325.77" width="41.3" height="2.9" fill="#18b4c0"/>
<text x="400.5" y="329.1" font-size="5.5" textLength="15.0" lengthAdjust="spacingAndGlyphs" fill="#3a3a3a">mv_nc</text>
<rect x="345.6" y="331.36" width="31.7" height="2.9" fill="#18b4c0"/>
<text x="401.2" y="334.7" font-size="5.5" textLength="13.6" lengthAdjust="spacingAndGlyphs" fill="#3a3a3a">mv_ct</text>
<rect x="360.0" y="336.95" width="17.3" height="2.9" fill="#808080"/>
<text x="399.4" y="340.3" font-size="5.5" textLength="17.3" lengthAdjust="spacingAndGlyphs" fill="#3a3a3a">random</text>
<line x1="342.5" y1="345.6" x2="350.6" y2="345.6" stroke="#111" stroke-width="0.7" />
<polygon points="340.3,345.6 343.1,344.3 343.1,346.9" fill="#000" stroke="none" stroke-width="1" />
<text x="351.0" y="347.0" font-size="4.2" textLength="10.0" lengthAdjust="spacingAndGlyphs" font-weight="bold">Better</text>
<rect x="439.6" y="203.3" width="90.0" height="145.8" fill="none" stroke="#222" stroke-width="1.2" />
<text x="441.1" y="218.2" font-size="10.5" textLength="81.9" lengthAdjust="spacingAndGlyphs" font-weight="bold" stroke="#111" stroke-width="0.21">Proposed Selection:</text>
<text x="441.7" y="231.2" font-size="10.8" textLength="68.0" lengthAdjust="spacingAndGlyphs" font-weight="bold" stroke="#111" stroke-width="0.16">Method Mixture</text>
<path d="M466.81,282.46 L468.80,283.47 L467.21,287.29 L465.10,286.60 L463.60,288.10 L464.29,290.21 L460.47,291.80 L459.46,289.81 L457.34,289.81 L456.33,291.80 L452.51,290.21 L453.20,288.10 L451.70,286.60 L449.59,287.29 L448.00,283.47 L449.99,282.46 L449.99,280.34 L448.00,279.33 L449.59,275.51 L451.70,276.20 L453.20,274.70 L452.51,272.59 L456.33,271.00 L457.34,272.99 L459.46,272.99 L460.47,271.00 L464.29,272.59 L463.60,274.70 L465.10,276.20 L467.21,275.51 L468.80,279.33 L466.81,280.34 Z M463.38,281.40 A4.98,4.98 0 1 0 453.42,281.40 A4.98,4.98 0 1 0 463.38,281.40 Z" fill="#22c4c8" stroke="none" stroke-width="1" fill-rule="evenodd"/>
<path d="M489.41,270.66 L491.40,271.67 L489.81,275.49 L487.70,274.80 L486.20,276.30 L486.89,278.41 L483.07,280.00 L482.06,278.01 L479.94,278.01 L478.93,280.00 L475.11,278.41 L475.80,276.30 L474.30,274.80 L472.19,275.49 L470.60,271.67 L472.59,270.66 L472.59,268.54 L470.60,267.53 L472.19,263.71 L474.30,264.40 L475.80,262.90 L475.11,260.79 L478.93,259.20 L479.94,261.19 L482.06,261.19 L483.07,259.20 L486.89,260.79 L486.20,262.90 L487.70,264.40 L489.81,263.71 L491.40,267.53 L489.41,268.54 Z M485.98,269.60 A4.98,4.98 0 1 0 476.02,269.60 A4.98,4.98 0 1 0 485.98,269.60 Z" fill="#e8281c" stroke="none" stroke-width="1" fill-rule="evenodd"/>
<path d="M512.21,282.46 L514.20,283.47 L512.61,287.29 L510.50,286.60 L509.00,288.10 L509.69,290.21 L505.87,291.80 L504.86,289.81 L502.74,289.81 L501.73,291.80 L497.91,290.21 L498.60,288.10 L497.10,286.60 L494.99,287.29 L493.40,283.47 L495.39,282.46 L495.39,280.34 L493.40,279.33 L494.99,275.51 L497.10,276.20 L498.60,274.70 L497.91,272.59 L501.73,271.00 L502.74,272.99 L504.86,272.99 L505.87,271.00 L509.69,272.59 L509.00,274.70 L510.50,276.20 L512.61,275.51 L514.20,279.33 L512.21,280.34 Z M508.78,281.40 A4.98,4.98 0 1 0 498.82,281.40 A4.98,4.98 0 1 0 508.78,281.40 Z" fill="#1470c4" stroke="none" stroke-width="1" fill-rule="evenodd"/>
<text x="472.0" y="283.6" font-size="10" font-weight="bold" text-anchor="middle">+</text>
<text x="490.0" y="283.6" font-size="10" font-weight="bold" text-anchor="middle">+</text>
<text transform="translate(479.2 295.8) rotate(90)" font-size="8.5" font-weight="bold" text-anchor="middle" stroke="#111" stroke-width="0.3">=</text>
<path d="M479.88,311.39 L481.17,312.05 L480.14,314.53 L478.76,314.08 L477.78,315.06 L478.23,316.44 L475.75,317.47 L475.09,316.18 L473.71,316.18 L473.05,317.47 L470.57,316.44 L471.02,315.06 L470.04,314.08 L468.66,314.53 L467.63,312.05 L468.92,311.39 L468.92,310.01 L467.63,309.35 L468.66,306.87 L470.04,307.32 L471.02,306.34 L470.57,304.96 L473.05,303.93 L473.71,305.22 L475.09,305.22 L475.75,303.93 L478.23,304.96 L477.78,306.34 L478.76,307.32 L480.14,306.87 L481.17,309.35 L479.88,310.01 Z M477.64,310.70 A3.24,3.24 0 1 0 471.16,310.70 A3.24,3.24 0 1 0 477.64,310.70 Z" fill="#22c4c8" stroke="none" stroke-width="1" fill-rule="evenodd"/>
<path d="M492.48,308.49 L493.77,309.15 L492.74,311.63 L491.36,311.18 L490.38,312.16 L490.83,313.54 L488.35,314.57 L487.69,313.28 L486.31,313.28 L485.65,314.57 L483.17,313.54 L483.62,312.16 L482.64,311.18 L481.26,311.63 L480.23,309.15 L481.52,308.49 L481.52,307.11 L480.23,306.45 L481.26,303.97 L482.64,304.42 L483.62,303.44 L483.17,302.06 L485.65,301.03 L486.31,302.32 L487.69,302.32 L488.35,301.03 L490.83,302.06 L490.38,303.44 L491.36,304.42 L492.74,303.97 L493.77,306.45 L492.48,307.11 Z M490.24,307.80 A3.24,3.24 0 1 0 483.76,307.80 A3.24,3.24 0 1 0 490.24,307.80 Z" fill="#e8281c" stroke="none" stroke-width="1" fill-rule="evenodd"/>
<path d="M489.08,319.79 L490.37,320.45 L489.34,322.93 L487.96,322.48 L486.98,323.46 L487.43,324.84 L484.95,325.87 L484.29,324.58 L482.91,324.58 L482.25,325.87 L479.77,324.84 L480.22,323.46 L479.24,322.48 L477.86,322.93 L476.83,320.45 L478.12,319.79 L478.12,318.41 L476.83,317.75 L477.86,315.27 L479.24,315.72 L480.22,314.74 L479.77,313.36 L482.25,312.33 L482.91,313.62 L484.29,313.62 L484.95,312.33 L487.43,313.36 L486.98,314.74 L487.96,315.72 L489.34,315.27 L490.37,317.75 L489.08,318.41 Z M486.84,319.10 A3.24,3.24 0 1 0 480.36,319.10 A3.24,3.24 0 1 0 486.84,319.10 Z" fill="#1470c4" stroke="none" stroke-width="1" fill-rule="evenodd"/>
<line x1="379.6" y1="388.4" x2="379.6" y2="361.0" stroke="#000" stroke-width="2.0" />
<polygon points="379.6,354.7 384.6,362.7 374.6,362.7" fill="#000" stroke="none" stroke-width="1" />
<path d="M414,354.7 L414,374.3 L444.4,374.3 L444.4,361" fill="none" stroke="#000" stroke-width="2.0" />
<polygon points="444.4,354.7 449.4,362.7 439.4,362.7" fill="#000" stroke="none" stroke-width="1" />
<path d="M498,354.7 L498,374.3 L522,374.3" fill="none" stroke="#000" stroke-width="2.0" />
<polygon points="529.5,374.3 521.5,379.3 521.5,369.3" fill="#000" stroke="none" stroke-width="1" />
<line x1="326.4" y1="490.6" x2="339.0" y2="490.6" stroke="#000" stroke-width="2.0" />
<polygon points="345.8,490.6 337.8,495.6 337.8,485.6" fill="#000" stroke="none" stroke-width="1" />
<rect x="348.2" y="394.4" width="181.6" height="192.2" fill="none" stroke="#222" stroke-width="1.2" />
<text x="371.5" y="408.8" font-size="10.5" textLength="96.2" lengthAdjust="spacingAndGlyphs" font-weight="bold" stroke="#111" stroke-width="0.14">Evaluation Criteria for</text>
<text x="366.3" y="422.2" font-size="10.5" textLength="104.0" lengthAdjust="spacingAndGlyphs" font-weight="bold" stroke="#111" stroke-width="0.13">HVG Selection Methods</text>
<path d="M502,399.5 L502,420.8 L525,420.8" fill="none" stroke="#111" stroke-width="1.4" />
<rect x="504.8" y="416.0" width="3" height="3.3" fill="#111"/>
<rect x="509.5" y="408.3" width="3" height="11.0" fill="#111"/>
<rect x="514.5" y="411.0" width="3" height="8.3" fill="#111"/>
<rect x="520.5" y="403.0" width="3" height="16.3" fill="#111"/>
<polygon points="354.7,429.2 356.2,433.5 360.7,433.6 357.1,436.3 358.4,440.6 354.7,438.0 351.0,440.6 352.3,436.3 348.7,433.6 353.2,433.5" fill="#1e9bf0" stroke="none" stroke-width="1" />
<text x="365.8" y="438.9" font-size="10.8" textLength="72.2" lengthAdjust="spacingAndGlyphs" fill="#1e8ef0" stroke="#1e8ef0" stroke-width="0.13">Cell Sorting Data</text>
<rect x="443.8" y="425.6" width="83.0" height="16.4" fill="none" stroke="#555" stroke-width="0.8" />
<line x1="445.1" y1="429.4" x2="454.8" y2="429.4" stroke="#f57c14" stroke-width="1.5" />
<line x1="445.1" y1="437.2" x2="454.8" y2="437.2" stroke="#d8148c" stroke-width="1.5" />
<text x="457.2" y="432.2" font-size="7.3" textLength="42.6" lengthAdjust="spacingAndGlyphs" fill="#f57c14" stroke="#f57c14" stroke-width="0.25">Clustering-based</text>
<text x="457.2" y="441.1" font-size="7.3" textLength="61.0" lengthAdjust="spacingAndGlyphs" fill="#d8148c" stroke="#d8148c" stroke-width="0.26">Nearest-Neighbor-based</text>
<circle cx="361.8" cy="450.8" r="1.1" fill="#111" stroke="none" stroke-width="1" />
<text x="369.8" y="453.8" font-size="10.7" textLength="103.6" lengthAdjust="spacingAndGlyphs" stroke="#111" stroke-width="0.18">Adjusted Rand Index(ARI)</text>
<line x1="475.5" y1="450.6" x2="487.5" y2="450.6" stroke="#f57c14" stroke-width="1.9" />
<circle cx="361.8" cy="461.3" r="1.1" fill="#111" stroke="none" stroke-width="1" />
<text x="369.8" y="464.3" font-size="10.7" textLength="58.4" lengthAdjust="spacingAndGlyphs" stroke="#111" stroke-width="0.17">Variance Ratio</text>
<line x1="429.4" y1="461.2" x2="441.8" y2="461.2" stroke="#f57c14" stroke-width="1.9" />
<circle cx="361.8" cy="472.7" r="1.1" fill="#111" stroke="none" stroke-width="1" />
<text x="369.8" y="475.7" font-size="10.7" textLength="108.2" lengthAdjust="spacingAndGlyphs" stroke="#111" stroke-width="0.19">Nearest Neighbor Accuracy</text>
<line x1="483.0" y1="472.8" x2="494.9" y2="472.8" stroke="#d8148c" stroke-width="1.9" />
<circle cx="361.8" cy="482.9" r="1.1" fill="#111" stroke="none" stroke-width="1" />
<text x="369.8" y="485.9" font-size="10.7" textLength="55.5" lengthAdjust="spacingAndGlyphs" stroke="#111" stroke-width="0.18">Cell Type LISI</text>
<line x1="426.3" y1="483.0" x2="438.6" y2="483.0" stroke="#d8148c" stroke-width="1.9" />
<circle cx="361.8" cy="493.9" r="1.1" fill="#111" stroke="none" stroke-width="1" />
<text x="369.8" y="496.9" font-size="10.7" textLength="102.5" lengthAdjust="spacingAndGlyphs" stroke="#111" stroke-width="0.18">Nearest Mutual Info (NMI)</text>
<line x1="475.0" y1="493.8" x2="487.3" y2="493.8" stroke="#f57c14" stroke-width="1.9" />
<circle cx="361.8" cy="504.9" r="1.1" fill="#111" stroke="none" stroke-width="1" />
<text x="369.8" y="507.9" font-size="10.7" textLength="129.2" lengthAdjust="spacingAndGlyphs" stroke="#111" stroke-width="0.18">Average Silhouette Width (ASW)</text>
<line x1="501.2" y1="505.5" x2="513.7" y2="505.5" stroke="#f57c14" stroke-width="1.9" />
<circle cx="361.8" cy="525.9" r="1.1" fill="#111" stroke="none" stroke-width="1" />
<text x="369.8" y="528.9" font-size="10.7" textLength="58.4" lengthAdjust="spacingAndGlyphs" stroke="#111" stroke-width="0.17">Variance Ratio</text>
<line x1="430.0" y1="526.8" x2="442.2" y2="526.8" stroke="#f57c14" stroke-width="1.9" />
<circle cx="361.8" cy="537.6" r="1.1" fill="#111" stroke="none" stroke-width="1" />
<text x="369.8" y="540.6" font-size="10.7" textLength="90.8" lengthAdjust="spacingAndGlyphs" stroke="#111" stroke-width="0.19">Nearest Neighbor MSE</text>
<line x1="465.0" y1="537.5" x2="477.2" y2="537.5" stroke="#d8148c" stroke-width="1.9" />
<circle cx="361.8" cy="548.7" r="1.1" fill="#111" stroke="none" stroke-width="1" />
<text x="369.8" y="551.7" font-size="10.7" textLength="129.9" lengthAdjust="spacingAndGlyphs" stroke="#111" stroke-width="0.19">Nearest Neighbor Distance Ratio</text>
<line x1="504.0" y1="548.6" x2="516.6" y2="548.6" stroke="#d8148c" stroke-width="1.9" />
<circle cx="361.8" cy="559.1" r="1.1" fill="#111" stroke="none" stroke-width="1" />
<text x="369.8" y="562.1" font-size="10.7" textLength="80.2" lengthAdjust="spacingAndGlyphs" stroke="#111" stroke-width="0.19">Distance Correlation</text>
<line x1="454.5" y1="559.2" x2="467.0" y2="559.2" stroke="#f57c14" stroke-width="1.9" />
<circle cx="361.8" cy="570.6" r="1.1" fill="#111" stroke="none" stroke-width="1" />
<text x="369.8" y="573.6" font-size="10.7" textLength="105.4" lengthAdjust="spacingAndGlyphs" stroke="#111" stroke-width="0.19">Adjusted Rand Index (ARI)</text>
<line x1="477.8" y1="570.6" x2="490.4" y2="570.6" stroke="#f57c14" stroke-width="1.9" />
<circle cx="361.8" cy="581.4" r="1.1" fill="#111" stroke="none" stroke-width="1" />
<text x="369.8" y="584.4" font-size="10.7" textLength="102.5" lengthAdjust="spacingAndGlyphs" stroke="#111" stroke-width="0.18">Nearest Mutual Info (NMI)</text>
<line x1="474.9" y1="581.4" x2="486.9" y2="581.4" stroke="#f57c14" stroke-width="1.9" />
<circle cx="354.6" cy="515.0" r="4.4" fill="#55d43c" stroke="none" stroke-width="1" />
<text x="358.6" y="520.5" font-size="11" font-weight="bold">/</text>
<polygon points="366.9,511.8 371.6,520.8 362.2,520.8" fill="#e8261c" stroke="none" stroke-width="1" />
<text x="370.7" y="518.6" font-size="10.6" textLength="41.3" lengthAdjust="spacingAndGlyphs" fill="#55c83c" stroke="#55c83c" stroke-width="0.09">CITE-seq</text>
<text x="414.5" y="518.6" font-size="10.6" fill="#333">/</text>
<text x="418.2" y="518.6" font-size="10.6" textLength="60.5" lengthAdjust="spacingAndGlyphs" fill="#e8261c">MultiomATAC</text>
<rect x="535.3" y="202.3" width="148.5" height="251.1" fill="none" stroke="#222" stroke-width="1.2" />
<text x="562.1" y="217.9" font-size="10.5" textLength="74.3" lengthAdjust="spacingAndGlyphs" font-weight="bold" stroke="#111" stroke-width="0.13">Rank of Methods</text>
<text x="547.4" y="230.8" font-size="10.3" textLength="99.1" lengthAdjust="spacingAndGlyphs" font-weight="bold" stroke="#111" stroke-width="0.11">with Proposed Mixture</text>
<path d="M536.3,445 L536.3,234.2 L634.2,234.2 L634.2,445 Z" fill="none" stroke="#b8b8b8" stroke-width="0.8" />
<rect x="559.9" y="235.10" width="70.1" height="2.8" fill="#5aaa2c"/>
<text x="634.2" y="238.3" font-size="5.4" textLength="47.6" lengthAdjust="spacingAndGlyphs" fill="#3a3a3a">1mv2mv3pos4dis5max</text>
<rect x="567.3" y="239.58" width="62.7" height="2.8" fill="#7c74c8"/>
<text x="638.6" y="242.8" font-size="5.4" textLength="38.8" lengthAdjust="spacingAndGlyphs" fill="#3a3a3a">2mv3pos4dis5max</text>
<rect x="559.0" y="244.06" width="71.0" height="2.8" fill="#7c74c8"/>
<text x="638.6" y="247.3" font-size="5.4" textLength="38.8" lengthAdjust="spacingAndGlyphs" fill="#3a3a3a">1mv3pos4dis5max</text>
<rect x="561.2" y="248.54" width="68.8" height="2.8" fill="#7c74c8"/>
<text x="639.3" y="251.7" font-size="5.4" textLength="37.5" lengthAdjust="spacingAndGlyphs" fill="#3a3a3a">1mv2mv4dis5max</text>
<rect x="557.2" y="253.02" width="72.8" height="2.8" fill="#7c74c8"/>
<text x="638.5" y="256.2" font-size="5.4" textLength="39.0" lengthAdjust="spacingAndGlyphs" fill="#3a3a3a">1mv2mv3pos5max</text>
<rect x="554.2" y="257.50" width="75.8" height="2.8" fill="#7c74c8"/>
<text x="639.9" y="260.7" font-size="5.4" textLength="36.2" lengthAdjust="spacingAndGlyphs" fill="#3a3a3a">1mv2mv3pos4dis</text>
<rect x="562.1" y="261.98" width="67.9" height="2.8" fill="#dc5c04"/>
<text x="643.0" y="265.2" font-size="5.4" textLength="30.0" lengthAdjust="spacingAndGlyphs" fill="#3a3a3a">3pos4dis5max</text>
<rect x="569.6" y="266.46" width="60.4" height="2.8" fill="#dc5c04"/>
<text x="643.7" y="269.7" font-size="5.4" textLength="28.7" lengthAdjust="spacingAndGlyphs" fill="#3a3a3a">2mv4dis5max</text>
<rect x="568.5" y="270.94" width="61.5" height="2.8" fill="#dc5c04"/>
<text x="642.9" y="274.1" font-size="5.4" textLength="30.2" lengthAdjust="spacingAndGlyphs" fill="#3a3a3a">2mv3pos5max</text>
<rect x="553.8" y="275.42" width="76.2" height="2.8" fill="#dc5c04"/>
<text x="644.3" y="278.6" font-size="5.4" textLength="27.4" lengthAdjust="spacingAndGlyphs" fill="#3a3a3a">2mv3pos4dis</text>
<rect x="556.0" y="279.90" width="74.0" height="2.8" fill="#dc5c04"/>
<text x="643.7" y="283.1" font-size="5.4" textLength="28.7" lengthAdjust="spacingAndGlyphs" fill="#3a3a3a">1mv4dis5max</text>
<rect x="554.9" y="284.38" width="75.1" height="2.8" fill="#dc5c04"/>
<text x="642.9" y="287.6" font-size="5.4" textLength="30.2" lengthAdjust="spacingAndGlyphs" fill="#3a3a3a">1mv3pos5max</text>
<rect x="540.9" y="288.86" width="89.1" height="2.8" fill="#dc5c04"/>
<text x="644.3" y="292.1" font-size="5.4" textLength="27.4" lengthAdjust="spacingAndGlyphs" fill="#3a3a3a">1mv3pos4dis</text>
<rect x="558.7" y="293.34" width="71.3" height="2.8" fill="#dc5c04"/>
<text x="643.5" y="296.5" font-size="5.4" textLength="28.9" lengthAdjust="spacingAndGlyphs" fill="#3a3a3a">1mv2mv5max</text>
<rect x="549.2" y="297.82" width="80.8" height="2.8" fill="#dc5c04"/>
<text x="645.0" y="301.0" font-size="5.4" textLength="26.1" lengthAdjust="spacingAndGlyphs" fill="#3a3a3a">1mv2mv4dis</text>
<rect x="542.3" y="302.30" width="87.7" height="2.8" fill="#dc5c04"/>
<text x="644.2" y="305.5" font-size="5.4" textLength="27.7" lengthAdjust="spacingAndGlyphs" fill="#3a3a3a">1mv2mv3pos</text>
<rect x="572.2" y="306.78" width="57.8" height="2.8" fill="#fdc48c"/>
<text x="648.1" y="310.0" font-size="5.4" textLength="19.9" lengthAdjust="spacingAndGlyphs" fill="#3a3a3a">4dis5max</text>
<rect x="563.3" y="311.26" width="66.7" height="2.8" fill="#fdc48c"/>
<text x="647.3" y="314.5" font-size="5.4" textLength="21.5" lengthAdjust="spacingAndGlyphs" fill="#3a3a3a">3pos5max</text>
<rect x="555.2" y="315.74" width="74.8" height="2.8" fill="#fdc48c"/>
<text x="648.7" y="318.9" font-size="5.4" textLength="18.6" lengthAdjust="spacingAndGlyphs" fill="#3a3a3a">3pos4dis</text>
<rect x="569.8" y="320.22" width="60.2" height="2.8" fill="#fdc48c"/>
<text x="647.9" y="323.4" font-size="5.4" textLength="20.2" lengthAdjust="spacingAndGlyphs" fill="#3a3a3a">2mv5max</text>
<rect x="564.9" y="324.70" width="65.1" height="2.8" fill="#fdc48c"/>
<text x="649.3" y="327.9" font-size="5.4" textLength="17.3" lengthAdjust="spacingAndGlyphs" fill="#3a3a3a">2mv4dis</text>
<rect x="554.5" y="329.18" width="75.5" height="2.8" fill="#fdc48c"/>
<text x="648.6" y="332.4" font-size="5.4" textLength="18.9" lengthAdjust="spacingAndGlyphs" fill="#3a3a3a">2mv3pos</text>
<rect x="551.2" y="333.66" width="78.8" height="2.8" fill="#fdc48c"/>
<text x="647.9" y="336.9" font-size="5.4" textLength="20.2" lengthAdjust="spacingAndGlyphs" fill="#3a3a3a">1mv5max</text>
<rect x="559.9" y="338.14" width="70.1" height="2.8" fill="#fdc48c"/>
<text x="649.3" y="341.3" font-size="5.4" textLength="17.3" lengthAdjust="spacingAndGlyphs" fill="#3a3a3a">1mv4dis</text>
<rect x="548.2" y="342.62" width="81.8" height="2.8" fill="#fdc48c"/>
<text x="648.6" y="345.8" font-size="5.4" textLength="18.9" lengthAdjust="spacingAndGlyphs" fill="#3a3a3a">1mv3pos</text>
<rect x="559.4" y="347.10" width="70.6" height="2.8" fill="#fdc48c"/>
<text x="649.2" y="350.3" font-size="5.4" textLength="17.6" lengthAdjust="spacingAndGlyphs" fill="#3a3a3a">1mv2mv</text>
<rect x="583.6" y="351.58" width="46.4" height="2.8" fill="#c4aee0"/>
<text x="652.4" y="354.8" font-size="5.4" textLength="11.1" lengthAdjust="spacingAndGlyphs" fill="#3a3a3a">SCT*</text>
<rect x="583.0" y="356.06" width="47.0" height="2.8" fill="#e6b812"/>
<text x="636.2" y="359.3" font-size="5.4" textLength="43.7" lengthAdjust="spacingAndGlyphs" fill="#3a3a3a">mean_max_PFlogPF</text>
<rect x="583.0" y="360.54" width="47.0" height="2.8" fill="#e6b812"/>
<text x="639.6" y="363.7" font-size="5.4" textLength="36.7" lengthAdjust="spacingAndGlyphs" fill="#3a3a3a">mean_max_lognc</text>
<rect x="579.8" y="365.02" width="50.2" height="2.8" fill="#e6b812"/>
<text x="635.5" y="368.2" font-size="5.4" textLength="45.0" lengthAdjust="spacingAndGlyphs" fill="#3a3a3a">mean_max_nc(5max)</text>
<rect x="581.1" y="369.50" width="48.9" height="2.8" fill="#e6b812"/>
<text x="643.4" y="372.7" font-size="5.4" textLength="29.2" lengthAdjust="spacingAndGlyphs" fill="#3a3a3a">mean_max_ct</text>
<rect x="583.6" y="373.98" width="46.4" height="2.8" fill="#3e7cba"/>
<text x="636.9" y="377.2" font-size="5.4" textLength="42.1" lengthAdjust="spacingAndGlyphs" fill="#3a3a3a">scanpy_cell_ranger*</text>
<rect x="592.0" y="378.46" width="38.0" height="2.8" fill="#3e7cba"/>
<text x="643.4" y="381.7" font-size="5.4" textLength="29.2" lengthAdjust="spacingAndGlyphs" fill="#3a3a3a">disp_PFlogPF</text>
<rect x="590.6" y="382.94" width="39.4" height="2.8" fill="#3e7cba"/>
<text x="646.9" y="386.1" font-size="5.4" textLength="22.2" lengthAdjust="spacingAndGlyphs" fill="#3a3a3a">disp_lognc</text>
<rect x="586.3" y="387.42" width="43.7" height="2.8" fill="#3e7cba"/>
<text x="638.7" y="390.6" font-size="5.4" textLength="38.5" lengthAdjust="spacingAndGlyphs" fill="#3a3a3a">mvp_nc_seuratv2*</text>
<rect x="567.3" y="391.90" width="62.7" height="2.8" fill="#3e7cba"/>
<text x="633.1" y="395.1" font-size="5.4" textLength="49.9" lengthAdjust="spacingAndGlyphs" fill="#3a3a3a">disp_nc_seuratv1(4dis)*</text>
<rect x="572.2" y="396.38" width="57.8" height="2.8" fill="#3e7cba"/>
<text x="650.6" y="399.6" font-size="5.4" textLength="14.7" lengthAdjust="spacingAndGlyphs" fill="#3a3a3a">disp_ct</text>
<rect x="557.2" y="400.86" width="72.8" height="2.8" fill="#f0145a"/>
<text x="635.5" y="404.1" font-size="5.4" textLength="45.0" lengthAdjust="spacingAndGlyphs" fill="#3a3a3a">poisson_scran(3pos)*</text>
<rect x="585.2" y="405.34" width="44.8" height="2.8" fill="#1f9e74"/>
<text x="641.5" y="408.5" font-size="5.4" textLength="33.1" lengthAdjust="spacingAndGlyphs" fill="#3a3a3a">logmv_PFlogPF</text>
<rect x="576.2" y="409.82" width="53.8" height="2.8" fill="#1f9e74"/>
<text x="639.0" y="413.0" font-size="5.4" textLength="38.0" lengthAdjust="spacingAndGlyphs" fill="#3a3a3a">logmv_lognc(2mv)</text>
<rect x="580.9" y="414.30" width="49.1" height="2.8" fill="#1f9e74"/>
<text x="648.1" y="417.5" font-size="5.4" textLength="19.9" lengthAdjust="spacingAndGlyphs" fill="#3a3a3a">logmv_nc</text>
<rect x="583.6" y="418.78" width="46.4" height="2.8" fill="#1f9e74"/>
<text x="637.6" y="422.0" font-size="5.4" textLength="40.8" lengthAdjust="spacingAndGlyphs" fill="#3a3a3a">logmv_ct_seuratv3*</text>
<rect x="570.0" y="423.26" width="60.0" height="2.8" fill="#18b4c0"/>
<text x="644.6" y="426.5" font-size="5.4" textLength="26.9" lengthAdjust="spacingAndGlyphs" fill="#3a3a3a">mv_PFlogPF</text>
<rect x="562.6" y="427.74" width="67.4" height="2.8" fill="#18b4c0"/>
<text x="634.2" y="430.9" font-size="5.4" textLength="47.5" lengthAdjust="spacingAndGlyphs" fill="#3a3a3a">mv_lognc_scran(1mv)*</text>
<rect x="564.8" y="432.22" width="65.2" height="2.8" fill="#18b4c0"/>
<text x="651.2" y="435.4" font-size="5.4" textLength="13.7" lengthAdjust="spacingAndGlyphs" fill="#3a3a3a">mv_nc</text>
<rect x="579.0" y="436.70" width="51.0" height="2.8" fill="#18b4c0"/>
<text x="651.8" y="439.9" font-size="5.4" textLength="12.4" lengthAdjust="spacingAndGlyphs" fill="#3a3a3a">mv_ct</text>
<rect x="594.5" y="441.18" width="35.5" height="2.8" fill="#808080"/>
<text x="650.1" y="444.4" font-size="5.4" textLength="15.8" lengthAdjust="spacingAndGlyphs" fill="#3a3a3a">random</text>
<line x1="566.0" y1="449.8" x2="572.3" y2="449.8" stroke="#111" stroke-width="0.8" />
<polygon points="562.4,449.8 566.4,448.1 566.4,451.5" fill="#000" stroke="none" stroke-width="1" />
<text x="574.0" y="452.3" font-size="7" textLength="19.0" lengthAdjust="spacingAndGlyphs" font-weight="bold">Better</text>
<line x1="605.5" y1="461.4" x2="605.5" y2="484.0" stroke="#000" stroke-width="2.0" />
<polygon points="605.5,491.0 600.5,482.7 610.5,482.7" fill="#000" stroke="none" stroke-width="1" />
<rect x="535.3" y="497.9" width="148.5" height="88.7" fill="none" stroke="#222" stroke-width="1.2" />
<text x="566.0" y="511.0" font-size="10.5" textLength="77.7" lengthAdjust="spacingAndGlyphs" font-weight="bold" stroke="#111" stroke-width="0.13">Recommendation</text>
<text x="572.0" y="518.5" font-size="8.6" textLength="74.3" lengthAdjust="spacingAndGlyphs">(including mixture)</text>
<rect x="543.0" y="526.5" width="27.8" height="4.2" fill="#dc5c04"/>
<text x="576.6" y="531.6" font-size="7.0" textLength="55.4" lengthAdjust="spacingAndGlyphs" font-weight="bold" stroke="#111" stroke-width="0.3">1mv3pos4dis</text>
<rect x="554.7" y="534.3" width="16.1" height="4.2" fill="#3e7cba"/>
<text x="576.6" y="539.4" font-size="7.0" textLength="100.6" lengthAdjust="spacingAndGlyphs" font-weight="bold" stroke="#111" stroke-width="0.3">disp_nc_seuratv1(4dis)*</text>
<rect x="548.0" y="542.1" width="22.8" height="4.2" fill="#f0145a"/>
<text x="576.6" y="547.0" font-size="7.0" textLength="90.4" lengthAdjust="spacingAndGlyphs" font-weight="bold" stroke="#111" stroke-width="0.3">poisson_scran(3pos)*</text>
<rect x="554.7" y="549.9" width="16.1" height="4.2" fill="#18b4c0"/>
<text x="576.6" y="555.0" font-size="7.0" textLength="94.8" lengthAdjust="spacingAndGlyphs" font-weight="bold" stroke="#111" stroke-width="0.3">mv_lognc_scran(1mv)*</text>
<text x="546.4" y="568.4" font-size="10.6" textLength="101.9" lengthAdjust="spacingAndGlyphs">Mixture of top selection</text>
<text x="546.4" y="580.2" font-size="10.6" textLength="124.0" lengthAdjust="spacingAndGlyphs">methods is the best mixture.</text>
</svg>
</body></html>
